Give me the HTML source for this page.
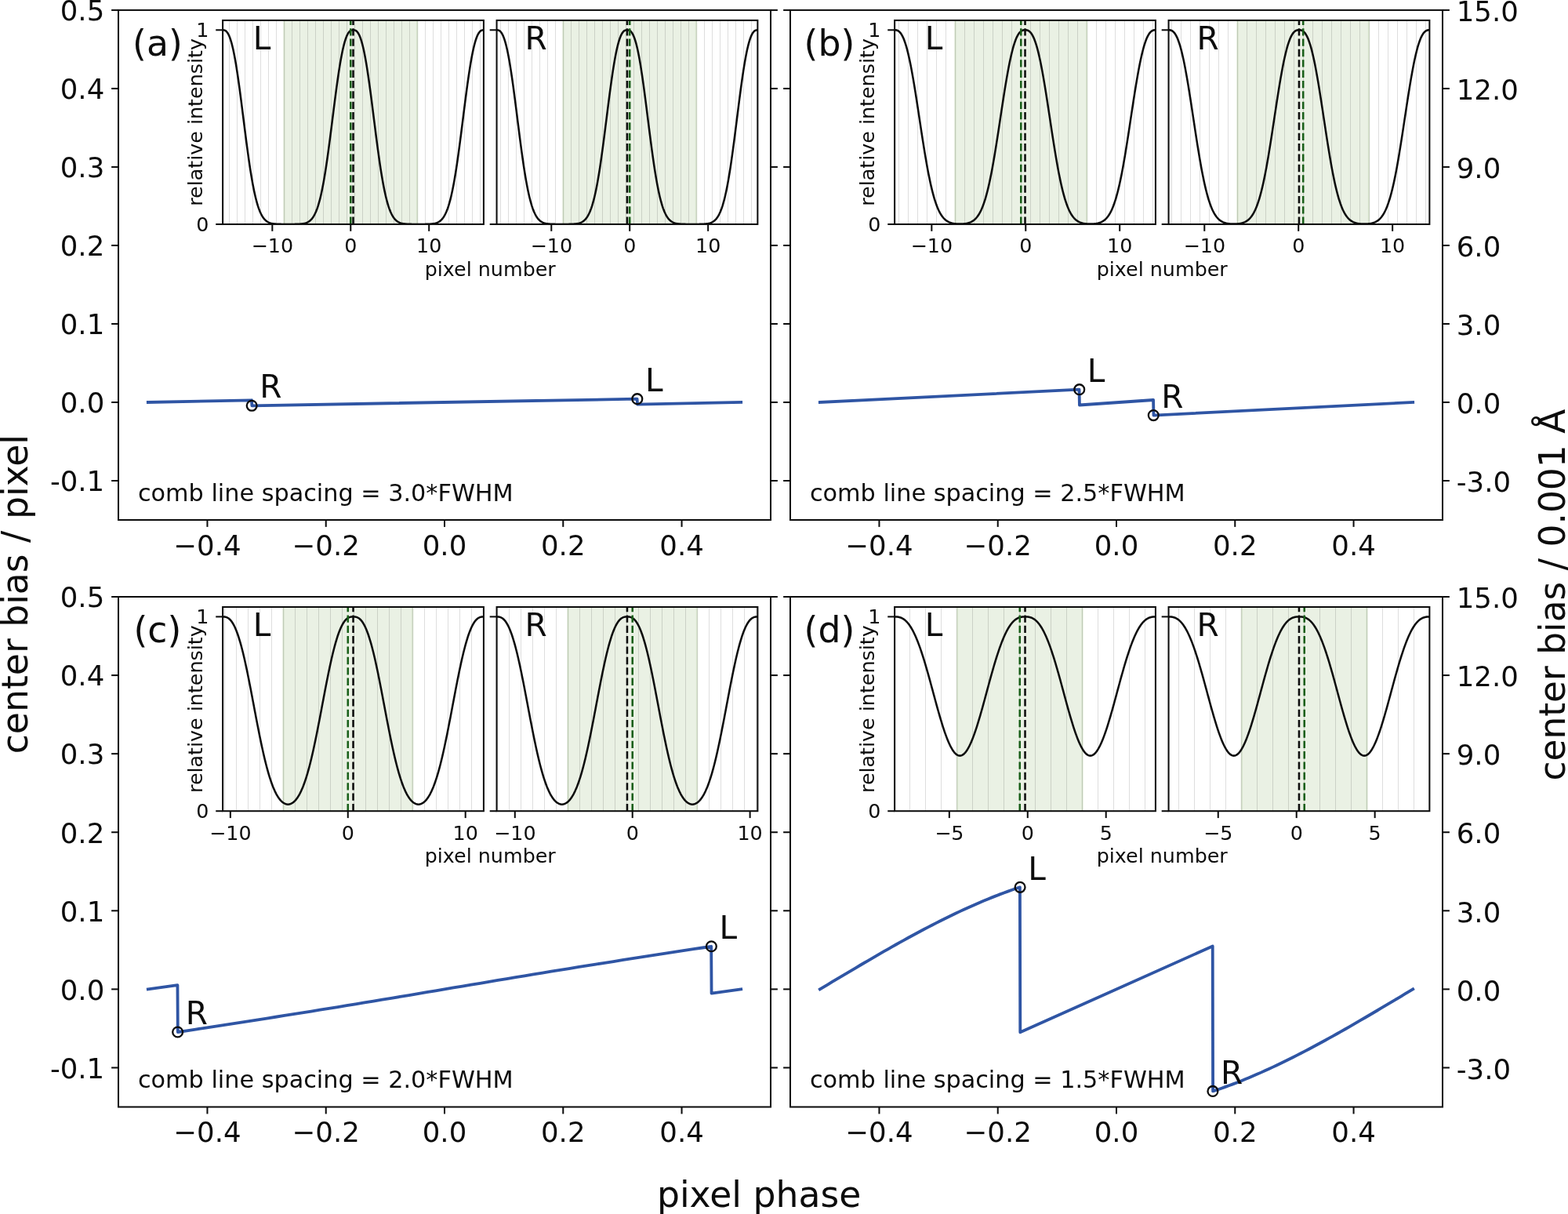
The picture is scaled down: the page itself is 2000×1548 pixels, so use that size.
<!DOCTYPE html>
<html lang="en">
<head>
<meta charset="utf-8">
<title>Center bias versus pixel phase</title>
<style>
html,body{margin:0;padding:0;background:#fff;}
body{width:2000px;height:1548px;overflow:hidden;}
svg{display:block;}
text{white-space:pre;}
</style>
</head>
<body>
<svg xmlns="http://www.w3.org/2000/svg" width="2000" height="1548" viewBox="0 0 2000 1548" font-family='"DejaVu Sans", "Liberation Sans", sans-serif' fill="#0c0c0c">
<rect x="0" y="0" width="2000" height="1548" fill="#fff"/>
<g id="panel-a">
<path d="M188.82 512.98L320.99 510.28L321.37 517.28L812.63 508.68L813.01 515.68L945.18 512.98" stroke="#2f55a4" stroke-width="3.81" fill="none" stroke-linejoin="round" stroke-linecap="square"/>
<circle cx="321.18" cy="517.28" r="6.42" fill="none" stroke="#0c0c0c" stroke-width="2.3"/>
<text x="331.28" y="507.48" font-size="40.59" text-anchor="start">R</text>
<circle cx="812.82" cy="508.68" r="6.42" fill="none" stroke="#0c0c0c" stroke-width="2.3"/>
<text x="822.92" y="498.88" font-size="40.59" text-anchor="start">L</text>
<rect x="151" y="12.9" width="832" height="650.1" fill="none" stroke="#0c0c0c" stroke-width="2.03"/>
<line x1="264.45" y1="663" x2="264.45" y2="671.88" stroke="#0c0c0c" stroke-width="2.03"/>
<text x="264.45" y="707.74" font-size="35.52" text-anchor="middle">−0.4</text>
<line x1="415.73" y1="663" x2="415.73" y2="671.88" stroke="#0c0c0c" stroke-width="2.03"/>
<text x="415.73" y="707.74" font-size="35.52" text-anchor="middle">−0.2</text>
<line x1="567" y1="663" x2="567" y2="671.88" stroke="#0c0c0c" stroke-width="2.03"/>
<text x="567" y="707.74" font-size="35.52" text-anchor="middle">0.0</text>
<line x1="718.27" y1="663" x2="718.27" y2="671.88" stroke="#0c0c0c" stroke-width="2.03"/>
<text x="718.27" y="707.74" font-size="35.52" text-anchor="middle">0.2</text>
<line x1="869.55" y1="663" x2="869.55" y2="671.88" stroke="#0c0c0c" stroke-width="2.03"/>
<text x="869.55" y="707.74" font-size="35.52" text-anchor="middle">0.4</text>
<line x1="142.12" y1="12.9" x2="151" y2="12.9" stroke="#0c0c0c" stroke-width="2.03"/>
<line x1="983" y1="12.9" x2="991.88" y2="12.9" stroke="#0c0c0c" stroke-width="2.03"/>
<text x="133.24" y="26.19" font-size="35.52" text-anchor="end">0.5</text>
<line x1="142.12" y1="112.92" x2="151" y2="112.92" stroke="#0c0c0c" stroke-width="2.03"/>
<line x1="983" y1="112.92" x2="991.88" y2="112.92" stroke="#0c0c0c" stroke-width="2.03"/>
<text x="133.24" y="126.21" font-size="35.52" text-anchor="end">0.4</text>
<line x1="142.12" y1="212.93" x2="151" y2="212.93" stroke="#0c0c0c" stroke-width="2.03"/>
<line x1="983" y1="212.93" x2="991.88" y2="212.93" stroke="#0c0c0c" stroke-width="2.03"/>
<text x="133.24" y="226.22" font-size="35.52" text-anchor="end">0.3</text>
<line x1="142.12" y1="312.95" x2="151" y2="312.95" stroke="#0c0c0c" stroke-width="2.03"/>
<line x1="983" y1="312.95" x2="991.88" y2="312.95" stroke="#0c0c0c" stroke-width="2.03"/>
<text x="133.24" y="326.24" font-size="35.52" text-anchor="end">0.2</text>
<line x1="142.12" y1="412.96" x2="151" y2="412.96" stroke="#0c0c0c" stroke-width="2.03"/>
<line x1="983" y1="412.96" x2="991.88" y2="412.96" stroke="#0c0c0c" stroke-width="2.03"/>
<text x="133.24" y="426.25" font-size="35.52" text-anchor="end">0.1</text>
<line x1="142.12" y1="512.98" x2="151" y2="512.98" stroke="#0c0c0c" stroke-width="2.03"/>
<line x1="983" y1="512.98" x2="991.88" y2="512.98" stroke="#0c0c0c" stroke-width="2.03"/>
<text x="133.24" y="526.27" font-size="35.52" text-anchor="end">0.0</text>
<line x1="142.12" y1="612.99" x2="151" y2="612.99" stroke="#0c0c0c" stroke-width="2.03"/>
<line x1="983" y1="612.99" x2="991.88" y2="612.99" stroke="#0c0c0c" stroke-width="2.03"/>
<text x="133.24" y="626.28" font-size="35.52" text-anchor="end">-0.1</text>
<text x="200.92" y="71.01" font-size="45.67" text-anchor="middle">(a)</text>
<text x="175.96" y="638.85" font-size="30.27" text-anchor="start">comb line spacing = 3.0*FWHM</text>
<clipPath id="c1"><rect x="284.12" y="25.9" width="332.8" height="260.04"/></clipPath>
<g clip-path="url(#c1)">
<rect x="362.32" y="20.9" width="169.9" height="270.04" fill="#468214" fill-opacity="0.115" stroke="#468214" stroke-opacity="0.115" stroke-width="2.54"/>
<path d="M292.5 25.9V285.94M302.5 25.9V285.94M312.5 25.9V285.94M322.5 25.9V285.94M332.5 25.9V285.94M342.5 25.9V285.94M352.5 25.9V285.94M362.5 25.9V285.94M372.5 25.9V285.94M382.5 25.9V285.94M392.5 25.9V285.94M402.5 25.9V285.94M412.5 25.9V285.94M422.5 25.9V285.94M432.5 25.9V285.94M442.5 25.9V285.94M452.5 25.9V285.94M462.5 25.9V285.94M472.5 25.9V285.94M482.5 25.9V285.94M492.5 25.9V285.94M502.5 25.9V285.94M512.5 25.9V285.94M522.5 25.9V285.94M532.5 25.9V285.94M542.5 25.9V285.94M552.5 25.9V285.94M562.5 25.9V285.94M572.5 25.9V285.94M582.5 25.9V285.94M592.5 25.9V285.94M602.5 25.9V285.94M612.5 25.9V285.94" stroke="#000" stroke-opacity="0.13" stroke-width="1" fill="none"/>
<path d="M284.12 38.28L284.95 38.31L285.78 38.42L286.62 38.65L287.45 39.05L288.28 39.64L289.11 40.44L289.94 41.47L290.78 42.75L291.61 44.3L292.44 46.13L293.27 48.24L294.1 50.65L294.94 53.36L295.77 56.38L296.6 59.71L297.43 63.34L298.26 67.27L299.1 71.5L299.93 76.02L300.76 80.81L301.59 85.87L302.42 91.18L303.26 96.71L304.09 102.46L304.92 108.4L305.75 114.51L306.58 120.76L307.42 127.14L308.25 133.61L309.08 140.15L309.91 146.73L310.74 153.33L311.58 159.92L312.41 166.48L313.24 172.98L314.07 179.39L314.9 185.7L315.74 191.88L316.57 197.92L317.4 203.78L318.23 209.47L319.06 214.96L319.9 220.24L320.73 225.3L321.56 230.12L322.39 234.72L323.22 239.07L324.06 243.18L324.89 247.05L325.72 250.68L326.55 254.07L327.38 257.22L328.22 260.14L329.05 262.83L329.88 265.32L330.71 267.59L331.54 269.67L332.38 271.56L333.21 273.27L334.04 274.82L334.87 276.21L335.7 277.46L336.54 278.57L337.37 279.56L338.2 280.43L339.03 281.2L339.86 281.88L340.7 282.48L341.53 283L342.36 283.45L343.19 283.83L344.02 284.17L344.86 284.46L345.69 284.7L346.52 284.91L347.35 285.09L348.18 285.24L349.02 285.36L349.85 285.47L350.68 285.56L351.51 285.63L352.34 285.69L353.18 285.74L354.01 285.78L354.84 285.81L355.67 285.84L356.5 285.86L357.34 285.88L358.17 285.89L359 285.9L359.83 285.91L360.66 285.92L361.5 285.92L362.33 285.93L363.16 285.93L363.99 285.93L364.82 285.93L365.66 285.94L366.49 285.94L367.32 285.94L368.15 285.94L368.98 285.94L369.82 285.93L370.65 285.93L371.48 285.93L372.31 285.93L373.14 285.92L373.98 285.92L374.81 285.91L375.64 285.9L376.47 285.89L377.3 285.88L378.14 285.86L378.97 285.84L379.8 285.81L380.63 285.78L381.46 285.74L382.3 285.69L383.13 285.63L383.96 285.56L384.79 285.47L385.62 285.36L386.46 285.24L387.29 285.09L388.12 284.91L388.95 284.7L389.78 284.46L390.62 284.17L391.45 283.83L392.28 283.45L393.11 283L393.94 282.48L394.78 281.88L395.61 281.2L396.44 280.43L397.27 279.56L398.1 278.57L398.94 277.46L399.77 276.21L400.6 274.82L401.43 273.27L402.26 271.56L403.1 269.67L403.93 267.59L404.76 265.32L405.59 262.83L406.42 260.14L407.26 257.22L408.09 254.07L408.92 250.68L409.75 247.05L410.58 243.18L411.42 239.07L412.25 234.72L413.08 230.12L413.91 225.3L414.74 220.24L415.58 214.96L416.41 209.47L417.24 203.78L418.07 197.92L418.9 191.88L419.74 185.7L420.57 179.39L421.4 172.98L422.23 166.48L423.06 159.92L423.9 153.33L424.73 146.73L425.56 140.15L426.39 133.61L427.22 127.14L428.06 120.76L428.89 114.51L429.72 108.4L430.55 102.46L431.38 96.71L432.22 91.18L433.05 85.87L433.88 80.81L434.71 76.02L435.54 71.5L436.38 67.27L437.21 63.34L438.04 59.71L438.87 56.38L439.7 53.36L440.54 50.65L441.37 48.24L442.2 46.13L443.03 44.3L443.86 42.75L444.7 41.47L445.53 40.44L446.36 39.64L447.19 39.05L448.02 38.65L448.86 38.42L449.69 38.31L450.52 38.28L451.35 38.31L452.18 38.42L453.02 38.65L453.85 39.05L454.68 39.64L455.51 40.44L456.34 41.47L457.18 42.75L458.01 44.3L458.84 46.13L459.67 48.24L460.5 50.65L461.34 53.36L462.17 56.38L463 59.71L463.83 63.34L464.66 67.27L465.5 71.5L466.33 76.02L467.16 80.81L467.99 85.87L468.82 91.18L469.66 96.71L470.49 102.46L471.32 108.4L472.15 114.51L472.98 120.76L473.82 127.14L474.65 133.61L475.48 140.15L476.31 146.73L477.14 153.33L477.98 159.92L478.81 166.48L479.64 172.98L480.47 179.39L481.3 185.7L482.14 191.88L482.97 197.92L483.8 203.78L484.63 209.47L485.46 214.96L486.3 220.24L487.13 225.3L487.96 230.12L488.79 234.72L489.62 239.07L490.46 243.18L491.29 247.05L492.12 250.68L492.95 254.07L493.78 257.22L494.62 260.14L495.45 262.83L496.28 265.32L497.11 267.59L497.94 269.67L498.78 271.56L499.61 273.27L500.44 274.82L501.27 276.21L502.1 277.46L502.94 278.57L503.77 279.56L504.6 280.43L505.43 281.2L506.26 281.88L507.1 282.48L507.93 283L508.76 283.45L509.59 283.83L510.42 284.17L511.26 284.46L512.09 284.7L512.92 284.91L513.75 285.09L514.58 285.24L515.42 285.36L516.25 285.47L517.08 285.56L517.91 285.63L518.74 285.69L519.58 285.74L520.41 285.78L521.24 285.81L522.07 285.84L522.9 285.86L523.74 285.88L524.57 285.89L525.4 285.9L526.23 285.91L527.06 285.92L527.9 285.92L528.73 285.93L529.56 285.93L530.39 285.93L531.22 285.93L532.06 285.94L532.89 285.94L533.72 285.94L534.55 285.94L535.38 285.94L536.22 285.93L537.05 285.93L537.88 285.93L538.71 285.93L539.54 285.92L540.38 285.92L541.21 285.91L542.04 285.9L542.87 285.89L543.7 285.88L544.54 285.86L545.37 285.84L546.2 285.81L547.03 285.78L547.86 285.74L548.7 285.69L549.53 285.63L550.36 285.56L551.19 285.47L552.02 285.36L552.86 285.24L553.69 285.09L554.52 284.91L555.35 284.7L556.18 284.46L557.02 284.17L557.85 283.83L558.68 283.45L559.51 283L560.34 282.48L561.18 281.88L562.01 281.2L562.84 280.43L563.67 279.56L564.5 278.57L565.34 277.46L566.17 276.21L567 274.82L567.83 273.27L568.66 271.56L569.5 269.67L570.33 267.59L571.16 265.32L571.99 262.83L572.82 260.14L573.66 257.22L574.49 254.07L575.32 250.68L576.15 247.05L576.98 243.18L577.82 239.07L578.65 234.72L579.48 230.12L580.31 225.3L581.14 220.24L581.98 214.96L582.81 209.47L583.64 203.78L584.47 197.92L585.3 191.88L586.14 185.7L586.97 179.39L587.8 172.98L588.63 166.48L589.46 159.92L590.3 153.33L591.13 146.73L591.96 140.15L592.79 133.61L593.62 127.14L594.46 120.76L595.29 114.51L596.12 108.4L596.95 102.46L597.78 96.71L598.62 91.18L599.45 85.87L600.28 80.81L601.11 76.02L601.94 71.5L602.78 67.27L603.61 63.34L604.44 59.71L605.27 56.38L606.1 53.36L606.94 50.65L607.77 48.24L608.6 46.13L609.43 44.3L610.26 42.75L611.1 41.47L611.93 40.44L612.76 39.64L613.59 39.05L614.42 38.65L615.26 38.42L616.09 38.31L616.92 38.28" stroke="#0c0c0c" stroke-width="2.54" fill="none" stroke-linejoin="round" stroke-linecap="square"/>
<path d="M450.52 285.94V25.9" stroke="#0c0c0c" stroke-width="2.54" stroke-dasharray="9.33 4.03" stroke-dashoffset="0" fill="none"/>
<path d="M447.27 285.94V25.9" stroke="#195f19" stroke-width="2.54" stroke-dasharray="9.33 4.03" stroke-dashoffset="0" fill="none"/>
</g>
<rect x="284.12" y="25.9" width="332.8" height="260.04" fill="none" stroke="#0c0c0c" stroke-width="2.03"/>
<line x1="347.33" y1="285.94" x2="347.33" y2="294.82" stroke="#0c0c0c" stroke-width="2.03"/>
<text x="347.33" y="322.28" font-size="25.37" text-anchor="middle">−10</text>
<line x1="447.27" y1="285.94" x2="447.27" y2="294.82" stroke="#0c0c0c" stroke-width="2.03"/>
<text x="447.27" y="322.28" font-size="25.37" text-anchor="middle">0</text>
<line x1="547.21" y1="285.94" x2="547.21" y2="294.82" stroke="#0c0c0c" stroke-width="2.03"/>
<text x="547.21" y="322.28" font-size="25.37" text-anchor="middle">10</text>
<line x1="275.24" y1="285.94" x2="284.12" y2="285.94" stroke="#0c0c0c" stroke-width="2.03"/>
<text x="266.36" y="294.98" font-size="25.37" text-anchor="end">0</text>
<line x1="275.24" y1="38.28" x2="284.12" y2="38.28" stroke="#0c0c0c" stroke-width="2.03"/>
<text x="266.36" y="47.32" font-size="25.37" text-anchor="end">1</text>
<text x="334.04" y="63.1" font-size="40.59" text-anchor="middle">L</text>
<clipPath id="c2"><rect x="633.56" y="25.9" width="332.8" height="260.04"/></clipPath>
<g clip-path="url(#c2)">
<rect x="718.26" y="20.9" width="169.9" height="270.04" fill="#468214" fill-opacity="0.115" stroke="#468214" stroke-opacity="0.115" stroke-width="2.54"/>
<path d="M638.5 25.9V285.94M648.5 25.9V285.94M658.5 25.9V285.94M668.5 25.9V285.94M678.5 25.9V285.94M688.5 25.9V285.94M698.5 25.9V285.94M708.5 25.9V285.94M718.5 25.9V285.94M728.5 25.9V285.94M738.5 25.9V285.94M748.5 25.9V285.94M758.5 25.9V285.94M768.5 25.9V285.94M778.5 25.9V285.94M788.5 25.9V285.94M798.5 25.9V285.94M808.5 25.9V285.94M818.5 25.9V285.94M828.5 25.9V285.94M838.5 25.9V285.94M848.5 25.9V285.94M858.5 25.9V285.94M868.5 25.9V285.94M878.5 25.9V285.94M888.5 25.9V285.94M898.5 25.9V285.94M908.5 25.9V285.94M918.5 25.9V285.94M928.5 25.9V285.94M938.5 25.9V285.94M948.5 25.9V285.94M958.5 25.9V285.94" stroke="#000" stroke-opacity="0.13" stroke-width="1" fill="none"/>
<path d="M633.56 38.28L634.39 38.31L635.22 38.42L636.06 38.65L636.89 39.05L637.72 39.64L638.55 40.44L639.38 41.47L640.22 42.75L641.05 44.3L641.88 46.13L642.71 48.24L643.54 50.65L644.38 53.36L645.21 56.38L646.04 59.71L646.87 63.34L647.7 67.27L648.54 71.5L649.37 76.02L650.2 80.81L651.03 85.87L651.86 91.18L652.7 96.71L653.53 102.46L654.36 108.4L655.19 114.51L656.02 120.76L656.86 127.14L657.69 133.61L658.52 140.15L659.35 146.73L660.18 153.33L661.02 159.92L661.85 166.48L662.68 172.98L663.51 179.39L664.34 185.7L665.18 191.88L666.01 197.92L666.84 203.78L667.67 209.47L668.5 214.96L669.34 220.24L670.17 225.3L671 230.12L671.83 234.72L672.66 239.07L673.5 243.18L674.33 247.05L675.16 250.68L675.99 254.07L676.82 257.22L677.66 260.14L678.49 262.83L679.32 265.32L680.15 267.59L680.98 269.67L681.82 271.56L682.65 273.27L683.48 274.82L684.31 276.21L685.14 277.46L685.98 278.57L686.81 279.56L687.64 280.43L688.47 281.2L689.3 281.88L690.14 282.48L690.97 283L691.8 283.45L692.63 283.83L693.46 284.17L694.3 284.46L695.13 284.7L695.96 284.91L696.79 285.09L697.62 285.24L698.46 285.36L699.29 285.47L700.12 285.56L700.95 285.63L701.78 285.69L702.62 285.74L703.45 285.78L704.28 285.81L705.11 285.84L705.94 285.86L706.78 285.88L707.61 285.89L708.44 285.9L709.27 285.91L710.1 285.92L710.94 285.92L711.77 285.93L712.6 285.93L713.43 285.93L714.26 285.93L715.1 285.94L715.93 285.94L716.76 285.94L717.59 285.94L718.42 285.94L719.26 285.93L720.09 285.93L720.92 285.93L721.75 285.93L722.58 285.92L723.42 285.92L724.25 285.91L725.08 285.9L725.91 285.89L726.74 285.88L727.58 285.86L728.41 285.84L729.24 285.81L730.07 285.78L730.9 285.74L731.74 285.69L732.57 285.63L733.4 285.56L734.23 285.47L735.06 285.36L735.9 285.24L736.73 285.09L737.56 284.91L738.39 284.7L739.22 284.46L740.06 284.17L740.89 283.83L741.72 283.45L742.55 283L743.38 282.48L744.22 281.88L745.05 281.2L745.88 280.43L746.71 279.56L747.54 278.57L748.38 277.46L749.21 276.21L750.04 274.82L750.87 273.27L751.7 271.56L752.54 269.67L753.37 267.59L754.2 265.32L755.03 262.83L755.86 260.14L756.7 257.22L757.53 254.07L758.36 250.68L759.19 247.05L760.02 243.18L760.86 239.07L761.69 234.72L762.52 230.12L763.35 225.3L764.18 220.24L765.02 214.96L765.85 209.47L766.68 203.78L767.51 197.92L768.34 191.88L769.18 185.7L770.01 179.39L770.84 172.98L771.67 166.48L772.5 159.92L773.34 153.33L774.17 146.73L775 140.15L775.83 133.61L776.66 127.14L777.5 120.76L778.33 114.51L779.16 108.4L779.99 102.46L780.82 96.71L781.66 91.18L782.49 85.87L783.32 80.81L784.15 76.02L784.98 71.5L785.82 67.27L786.65 63.34L787.48 59.71L788.31 56.38L789.14 53.36L789.98 50.65L790.81 48.24L791.64 46.13L792.47 44.3L793.3 42.75L794.14 41.47L794.97 40.44L795.8 39.64L796.63 39.05L797.46 38.65L798.3 38.42L799.13 38.31L799.96 38.28L800.79 38.31L801.62 38.42L802.46 38.65L803.29 39.05L804.12 39.64L804.95 40.44L805.78 41.47L806.62 42.75L807.45 44.3L808.28 46.13L809.11 48.24L809.94 50.65L810.78 53.36L811.61 56.38L812.44 59.71L813.27 63.34L814.1 67.27L814.94 71.5L815.77 76.02L816.6 80.81L817.43 85.87L818.26 91.18L819.1 96.71L819.93 102.46L820.76 108.4L821.59 114.51L822.42 120.76L823.26 127.14L824.09 133.61L824.92 140.15L825.75 146.73L826.58 153.33L827.42 159.92L828.25 166.48L829.08 172.98L829.91 179.39L830.74 185.7L831.58 191.88L832.41 197.92L833.24 203.78L834.07 209.47L834.9 214.96L835.74 220.24L836.57 225.3L837.4 230.12L838.23 234.72L839.06 239.07L839.9 243.18L840.73 247.05L841.56 250.68L842.39 254.07L843.22 257.22L844.06 260.14L844.89 262.83L845.72 265.32L846.55 267.59L847.38 269.67L848.22 271.56L849.05 273.27L849.88 274.82L850.71 276.21L851.54 277.46L852.38 278.57L853.21 279.56L854.04 280.43L854.87 281.2L855.7 281.88L856.54 282.48L857.37 283L858.2 283.45L859.03 283.83L859.86 284.17L860.7 284.46L861.53 284.7L862.36 284.91L863.19 285.09L864.02 285.24L864.86 285.36L865.69 285.47L866.52 285.56L867.35 285.63L868.18 285.69L869.02 285.74L869.85 285.78L870.68 285.81L871.51 285.84L872.34 285.86L873.18 285.88L874.01 285.89L874.84 285.9L875.67 285.91L876.5 285.92L877.34 285.92L878.17 285.93L879 285.93L879.83 285.93L880.66 285.93L881.5 285.94L882.33 285.94L883.16 285.94L883.99 285.94L884.82 285.94L885.66 285.93L886.49 285.93L887.32 285.93L888.15 285.93L888.98 285.92L889.82 285.92L890.65 285.91L891.48 285.9L892.31 285.89L893.14 285.88L893.98 285.86L894.81 285.84L895.64 285.81L896.47 285.78L897.3 285.74L898.14 285.69L898.97 285.63L899.8 285.56L900.63 285.47L901.46 285.36L902.3 285.24L903.13 285.09L903.96 284.91L904.79 284.7L905.62 284.46L906.46 284.17L907.29 283.83L908.12 283.45L908.95 283L909.78 282.48L910.62 281.88L911.45 281.2L912.28 280.43L913.11 279.56L913.94 278.57L914.78 277.46L915.61 276.21L916.44 274.82L917.27 273.27L918.1 271.56L918.94 269.67L919.77 267.59L920.6 265.32L921.43 262.83L922.26 260.14L923.1 257.22L923.93 254.07L924.76 250.68L925.59 247.05L926.42 243.18L927.26 239.07L928.09 234.72L928.92 230.12L929.75 225.3L930.58 220.24L931.42 214.96L932.25 209.47L933.08 203.78L933.91 197.92L934.74 191.88L935.58 185.7L936.41 179.39L937.24 172.98L938.07 166.48L938.9 159.92L939.74 153.33L940.57 146.73L941.4 140.15L942.23 133.61L943.06 127.14L943.9 120.76L944.73 114.51L945.56 108.4L946.39 102.46L947.22 96.71L948.06 91.18L948.89 85.87L949.72 80.81L950.55 76.02L951.38 71.5L952.22 67.27L953.05 63.34L953.88 59.71L954.71 56.38L955.54 53.36L956.38 50.65L957.21 48.24L958.04 46.13L958.87 44.3L959.7 42.75L960.54 41.47L961.37 40.44L962.2 39.64L963.03 39.05L963.86 38.65L964.7 38.42L965.53 38.31L966.36 38.28" stroke="#0c0c0c" stroke-width="2.54" fill="none" stroke-linejoin="round" stroke-linecap="square"/>
<path d="M799.96 285.94V25.9" stroke="#0c0c0c" stroke-width="2.54" stroke-dasharray="9.33 4.03" stroke-dashoffset="0" fill="none"/>
<path d="M803.21 285.94V25.9" stroke="#195f19" stroke-width="2.54" stroke-dasharray="9.33 4.03" stroke-dashoffset="0" fill="none"/>
</g>
<rect x="633.56" y="25.9" width="332.8" height="260.04" fill="none" stroke="#0c0c0c" stroke-width="2.03"/>
<line x1="703.27" y1="285.94" x2="703.27" y2="294.82" stroke="#0c0c0c" stroke-width="2.03"/>
<text x="703.27" y="322.28" font-size="25.37" text-anchor="middle">−10</text>
<line x1="803.21" y1="285.94" x2="803.21" y2="294.82" stroke="#0c0c0c" stroke-width="2.03"/>
<text x="803.21" y="322.28" font-size="25.37" text-anchor="middle">0</text>
<line x1="903.15" y1="285.94" x2="903.15" y2="294.82" stroke="#0c0c0c" stroke-width="2.03"/>
<text x="903.15" y="322.28" font-size="25.37" text-anchor="middle">10</text>
<line x1="624.68" y1="285.94" x2="633.56" y2="285.94" stroke="#0c0c0c" stroke-width="2.03"/>
<line x1="624.68" y1="38.28" x2="633.56" y2="38.28" stroke="#0c0c0c" stroke-width="2.03"/>
<text x="683.48" y="63.1" font-size="40.59" text-anchor="middle">R</text>
<text x="625.24" y="351.54" font-size="25.37" text-anchor="middle">pixel number</text>
<text transform="translate(258.02 155.92) rotate(-90)" font-size="25.37" text-anchor="middle">relative intensity</text>
</g>
<g id="panel-b">
<path d="M1045.82 512.98L1376.54 496.67L1376.92 516.48L1471.08 509.98L1471.46 529.58L1802.18 512.98" stroke="#2f55a4" stroke-width="3.81" fill="none" stroke-linejoin="round" stroke-linecap="square"/>
<circle cx="1376.73" cy="496.67" r="6.42" fill="none" stroke="#0c0c0c" stroke-width="2.3"/>
<text x="1386.83" y="486.87" font-size="40.59" text-anchor="start">L</text>
<circle cx="1471.27" cy="529.58" r="6.42" fill="none" stroke="#0c0c0c" stroke-width="2.3"/>
<text x="1481.37" y="519.78" font-size="40.59" text-anchor="start">R</text>
<rect x="1008" y="12.9" width="832" height="650.1" fill="none" stroke="#0c0c0c" stroke-width="2.03"/>
<line x1="1121.45" y1="663" x2="1121.45" y2="671.88" stroke="#0c0c0c" stroke-width="2.03"/>
<text x="1121.45" y="707.74" font-size="35.52" text-anchor="middle">−0.4</text>
<line x1="1272.73" y1="663" x2="1272.73" y2="671.88" stroke="#0c0c0c" stroke-width="2.03"/>
<text x="1272.73" y="707.74" font-size="35.52" text-anchor="middle">−0.2</text>
<line x1="1424" y1="663" x2="1424" y2="671.88" stroke="#0c0c0c" stroke-width="2.03"/>
<text x="1424" y="707.74" font-size="35.52" text-anchor="middle">0.0</text>
<line x1="1575.27" y1="663" x2="1575.27" y2="671.88" stroke="#0c0c0c" stroke-width="2.03"/>
<text x="1575.27" y="707.74" font-size="35.52" text-anchor="middle">0.2</text>
<line x1="1726.55" y1="663" x2="1726.55" y2="671.88" stroke="#0c0c0c" stroke-width="2.03"/>
<text x="1726.55" y="707.74" font-size="35.52" text-anchor="middle">0.4</text>
<line x1="999.12" y1="12.9" x2="1008" y2="12.9" stroke="#0c0c0c" stroke-width="2.03"/>
<line x1="1840" y1="12.9" x2="1848.88" y2="12.9" stroke="#0c0c0c" stroke-width="2.03"/>
<text x="1857.76" y="27.09" font-size="35.52" text-anchor="start">15.0</text>
<line x1="999.12" y1="112.92" x2="1008" y2="112.92" stroke="#0c0c0c" stroke-width="2.03"/>
<line x1="1840" y1="112.92" x2="1848.88" y2="112.92" stroke="#0c0c0c" stroke-width="2.03"/>
<text x="1857.76" y="127.11" font-size="35.52" text-anchor="start">12.0</text>
<line x1="999.12" y1="212.93" x2="1008" y2="212.93" stroke="#0c0c0c" stroke-width="2.03"/>
<line x1="1840" y1="212.93" x2="1848.88" y2="212.93" stroke="#0c0c0c" stroke-width="2.03"/>
<text x="1857.76" y="227.12" font-size="35.52" text-anchor="start">9.0</text>
<line x1="999.12" y1="312.95" x2="1008" y2="312.95" stroke="#0c0c0c" stroke-width="2.03"/>
<line x1="1840" y1="312.95" x2="1848.88" y2="312.95" stroke="#0c0c0c" stroke-width="2.03"/>
<text x="1857.76" y="327.14" font-size="35.52" text-anchor="start">6.0</text>
<line x1="999.12" y1="412.96" x2="1008" y2="412.96" stroke="#0c0c0c" stroke-width="2.03"/>
<line x1="1840" y1="412.96" x2="1848.88" y2="412.96" stroke="#0c0c0c" stroke-width="2.03"/>
<text x="1857.76" y="427.15" font-size="35.52" text-anchor="start">3.0</text>
<line x1="999.12" y1="512.98" x2="1008" y2="512.98" stroke="#0c0c0c" stroke-width="2.03"/>
<line x1="1840" y1="512.98" x2="1848.88" y2="512.98" stroke="#0c0c0c" stroke-width="2.03"/>
<text x="1857.76" y="527.17" font-size="35.52" text-anchor="start">0.0</text>
<line x1="999.12" y1="612.99" x2="1008" y2="612.99" stroke="#0c0c0c" stroke-width="2.03"/>
<line x1="1840" y1="612.99" x2="1848.88" y2="612.99" stroke="#0c0c0c" stroke-width="2.03"/>
<text x="1857.76" y="627.18" font-size="35.52" text-anchor="start">-3.0</text>
<text x="1057.92" y="71.01" font-size="45.67" text-anchor="middle">(b)</text>
<text x="1032.96" y="638.85" font-size="30.27" text-anchor="start">comb line spacing = 2.5*FWHM</text>
<clipPath id="c3"><rect x="1141.12" y="25.9" width="332.8" height="260.04"/></clipPath>
<g clip-path="url(#c3)">
<rect x="1218.32" y="20.9" width="167.9" height="270.04" fill="#468214" fill-opacity="0.115" stroke="#468214" stroke-opacity="0.115" stroke-width="2.54"/>
<path d="M1146.5 25.9V285.94M1158.5 25.9V285.94M1170.5 25.9V285.94M1182.5 25.9V285.94M1194.5 25.9V285.94M1206.5 25.9V285.94M1218.5 25.9V285.94M1230.5 25.9V285.94M1242.5 25.9V285.94M1254.5 25.9V285.94M1266.5 25.9V285.94M1278.5 25.9V285.94M1290.5 25.9V285.94M1302.5 25.9V285.94M1314.5 25.9V285.94M1326.5 25.9V285.94M1338.5 25.9V285.94M1350.5 25.9V285.94M1362.5 25.9V285.94M1374.5 25.9V285.94M1386.5 25.9V285.94M1398.5 25.9V285.94M1410.5 25.9V285.94M1422.5 25.9V285.94M1434.5 25.9V285.94M1446.5 25.9V285.94M1458.5 25.9V285.94M1470.5 25.9V285.94" stroke="#000" stroke-opacity="0.13" stroke-width="1" fill="none"/>
<path d="M1141.12 38.28L1141.95 38.3L1142.78 38.37L1143.62 38.52L1144.45 38.77L1145.28 39.14L1146.11 39.64L1146.94 40.29L1147.78 41.1L1148.61 42.08L1149.44 43.24L1150.27 44.59L1151.1 46.13L1151.94 47.87L1152.77 49.81L1153.6 51.97L1154.43 54.33L1155.26 56.91L1156.1 59.71L1156.93 62.71L1157.76 65.93L1158.59 69.35L1159.42 72.98L1160.26 76.8L1161.09 80.81L1161.92 85.01L1162.75 89.38L1163.58 93.92L1164.42 98.61L1165.25 103.44L1166.08 108.4L1166.91 113.48L1167.74 118.66L1168.58 123.94L1169.41 129.28L1170.24 134.69L1171.07 140.15L1171.9 145.63L1172.74 151.13L1173.57 156.63L1174.4 162.11L1175.23 167.57L1176.06 172.98L1176.9 178.33L1177.73 183.61L1178.56 188.81L1179.39 193.91L1180.22 198.91L1181.06 203.78L1181.89 208.54L1182.72 213.15L1183.55 217.62L1184.38 221.95L1185.22 226.12L1186.05 230.12L1186.88 233.97L1187.71 237.65L1188.54 241.16L1189.38 244.5L1190.21 247.67L1191.04 250.68L1191.87 253.52L1192.7 256.19L1193.54 258.7L1194.37 261.06L1195.2 263.26L1196.03 265.32L1196.86 267.23L1197.7 269L1198.53 270.64L1199.36 272.15L1200.19 273.54L1201.02 274.82L1201.86 275.99L1202.69 277.05L1203.52 278.03L1204.35 278.91L1205.18 279.71L1206.02 280.43L1206.85 281.08L1207.68 281.66L1208.51 282.19L1209.34 282.65L1210.18 283.07L1211.01 283.44L1211.84 283.76L1212.67 284.05L1213.5 284.3L1214.34 284.53L1215.17 284.72L1216 284.88L1216.83 285.03L1217.66 285.15L1218.5 285.25L1219.33 285.34L1220.16 285.41L1220.99 285.47L1221.82 285.51L1222.66 285.54L1223.49 285.56L1224.32 285.56L1225.15 285.56L1225.98 285.54L1226.82 285.51L1227.65 285.47L1228.48 285.41L1229.31 285.34L1230.14 285.25L1230.98 285.15L1231.81 285.03L1232.64 284.88L1233.47 284.72L1234.3 284.53L1235.14 284.3L1235.97 284.05L1236.8 283.76L1237.63 283.44L1238.46 283.07L1239.3 282.65L1240.13 282.19L1240.96 281.66L1241.79 281.08L1242.62 280.43L1243.46 279.71L1244.29 278.91L1245.12 278.03L1245.95 277.05L1246.78 275.99L1247.62 274.82L1248.45 273.54L1249.28 272.15L1250.11 270.64L1250.94 269L1251.78 267.23L1252.61 265.32L1253.44 263.26L1254.27 261.06L1255.1 258.7L1255.94 256.19L1256.77 253.52L1257.6 250.68L1258.43 247.67L1259.26 244.5L1260.1 241.16L1260.93 237.65L1261.76 233.97L1262.59 230.12L1263.42 226.12L1264.26 221.95L1265.09 217.62L1265.92 213.15L1266.75 208.54L1267.58 203.78L1268.42 198.91L1269.25 193.91L1270.08 188.81L1270.91 183.61L1271.74 178.33L1272.58 172.98L1273.41 167.57L1274.24 162.11L1275.07 156.63L1275.9 151.13L1276.74 145.63L1277.57 140.15L1278.4 134.69L1279.23 129.28L1280.06 123.94L1280.9 118.66L1281.73 113.48L1282.56 108.4L1283.39 103.44L1284.22 98.61L1285.06 93.92L1285.89 89.38L1286.72 85.01L1287.55 80.81L1288.38 76.8L1289.22 72.98L1290.05 69.35L1290.88 65.93L1291.71 62.71L1292.54 59.71L1293.38 56.91L1294.21 54.33L1295.04 51.97L1295.87 49.81L1296.7 47.87L1297.54 46.13L1298.37 44.59L1299.2 43.24L1300.03 42.08L1300.86 41.1L1301.7 40.29L1302.53 39.64L1303.36 39.14L1304.19 38.77L1305.02 38.52L1305.86 38.37L1306.69 38.3L1307.52 38.28L1308.35 38.3L1309.18 38.37L1310.02 38.52L1310.85 38.77L1311.68 39.14L1312.51 39.64L1313.34 40.29L1314.18 41.1L1315.01 42.08L1315.84 43.24L1316.67 44.59L1317.5 46.13L1318.34 47.87L1319.17 49.81L1320 51.97L1320.83 54.33L1321.66 56.91L1322.5 59.71L1323.33 62.71L1324.16 65.93L1324.99 69.35L1325.82 72.98L1326.66 76.8L1327.49 80.81L1328.32 85.01L1329.15 89.38L1329.98 93.92L1330.82 98.61L1331.65 103.44L1332.48 108.4L1333.31 113.48L1334.14 118.66L1334.98 123.94L1335.81 129.28L1336.64 134.69L1337.47 140.15L1338.3 145.63L1339.14 151.13L1339.97 156.63L1340.8 162.11L1341.63 167.57L1342.46 172.98L1343.3 178.33L1344.13 183.61L1344.96 188.81L1345.79 193.91L1346.62 198.91L1347.46 203.78L1348.29 208.54L1349.12 213.15L1349.95 217.62L1350.78 221.95L1351.62 226.12L1352.45 230.12L1353.28 233.97L1354.11 237.65L1354.94 241.16L1355.78 244.5L1356.61 247.67L1357.44 250.68L1358.27 253.52L1359.1 256.19L1359.94 258.7L1360.77 261.06L1361.6 263.26L1362.43 265.32L1363.26 267.23L1364.1 269L1364.93 270.64L1365.76 272.15L1366.59 273.54L1367.42 274.82L1368.26 275.99L1369.09 277.05L1369.92 278.03L1370.75 278.91L1371.58 279.71L1372.42 280.43L1373.25 281.08L1374.08 281.66L1374.91 282.19L1375.74 282.65L1376.58 283.07L1377.41 283.44L1378.24 283.76L1379.07 284.05L1379.9 284.3L1380.74 284.53L1381.57 284.72L1382.4 284.88L1383.23 285.03L1384.06 285.15L1384.9 285.25L1385.73 285.34L1386.56 285.41L1387.39 285.47L1388.22 285.51L1389.06 285.54L1389.89 285.56L1390.72 285.56L1391.55 285.56L1392.38 285.54L1393.22 285.51L1394.05 285.47L1394.88 285.41L1395.71 285.34L1396.54 285.25L1397.38 285.15L1398.21 285.03L1399.04 284.88L1399.87 284.72L1400.7 284.53L1401.54 284.3L1402.37 284.05L1403.2 283.76L1404.03 283.44L1404.86 283.07L1405.7 282.65L1406.53 282.19L1407.36 281.66L1408.19 281.08L1409.02 280.43L1409.86 279.71L1410.69 278.91L1411.52 278.03L1412.35 277.05L1413.18 275.99L1414.02 274.82L1414.85 273.54L1415.68 272.15L1416.51 270.64L1417.34 269L1418.18 267.23L1419.01 265.32L1419.84 263.26L1420.67 261.06L1421.5 258.7L1422.34 256.19L1423.17 253.52L1424 250.68L1424.83 247.67L1425.66 244.5L1426.5 241.16L1427.33 237.65L1428.16 233.97L1428.99 230.12L1429.82 226.12L1430.66 221.95L1431.49 217.62L1432.32 213.15L1433.15 208.54L1433.98 203.78L1434.82 198.91L1435.65 193.91L1436.48 188.81L1437.31 183.61L1438.14 178.33L1438.98 172.98L1439.81 167.57L1440.64 162.11L1441.47 156.63L1442.3 151.13L1443.14 145.63L1443.97 140.15L1444.8 134.69L1445.63 129.28L1446.46 123.94L1447.3 118.66L1448.13 113.48L1448.96 108.4L1449.79 103.44L1450.62 98.61L1451.46 93.92L1452.29 89.38L1453.12 85.01L1453.95 80.81L1454.78 76.8L1455.62 72.98L1456.45 69.35L1457.28 65.93L1458.11 62.71L1458.94 59.71L1459.78 56.91L1460.61 54.33L1461.44 51.97L1462.27 49.81L1463.1 47.87L1463.94 46.13L1464.77 44.59L1465.6 43.24L1466.43 42.08L1467.26 41.1L1468.1 40.29L1468.93 39.64L1469.76 39.14L1470.59 38.77L1471.42 38.52L1472.26 38.37L1473.09 38.3L1473.92 38.28" stroke="#0c0c0c" stroke-width="2.54" fill="none" stroke-linejoin="round" stroke-linecap="square"/>
<path d="M1307.52 285.94V25.9" stroke="#0c0c0c" stroke-width="2.54" stroke-dasharray="9.33 4.03" stroke-dashoffset="0" fill="none"/>
<path d="M1302.27 285.94V25.9" stroke="#195f19" stroke-width="2.54" stroke-dasharray="9.33 4.03" stroke-dashoffset="0" fill="none"/>
</g>
<rect x="1141.12" y="25.9" width="332.8" height="260.04" fill="none" stroke="#0c0c0c" stroke-width="2.03"/>
<line x1="1188.34" y1="285.94" x2="1188.34" y2="294.82" stroke="#0c0c0c" stroke-width="2.03"/>
<text x="1188.34" y="322.28" font-size="25.37" text-anchor="middle">−10</text>
<line x1="1308.27" y1="285.94" x2="1308.27" y2="294.82" stroke="#0c0c0c" stroke-width="2.03"/>
<text x="1308.27" y="322.28" font-size="25.37" text-anchor="middle">0</text>
<line x1="1428.2" y1="285.94" x2="1428.2" y2="294.82" stroke="#0c0c0c" stroke-width="2.03"/>
<text x="1428.2" y="322.28" font-size="25.37" text-anchor="middle">10</text>
<line x1="1132.24" y1="285.94" x2="1141.12" y2="285.94" stroke="#0c0c0c" stroke-width="2.03"/>
<text x="1123.36" y="294.98" font-size="25.37" text-anchor="end">0</text>
<line x1="1132.24" y1="38.28" x2="1141.12" y2="38.28" stroke="#0c0c0c" stroke-width="2.03"/>
<text x="1123.36" y="47.32" font-size="25.37" text-anchor="end">1</text>
<text x="1191.04" y="63.1" font-size="40.59" text-anchor="middle">L</text>
<clipPath id="c4"><rect x="1490.56" y="25.9" width="332.8" height="260.04"/></clipPath>
<g clip-path="url(#c4)">
<rect x="1578.26" y="20.9" width="167.9" height="270.04" fill="#468214" fill-opacity="0.115" stroke="#468214" stroke-opacity="0.115" stroke-width="2.54"/>
<path d="M1494.5 25.9V285.94M1506.5 25.9V285.94M1518.5 25.9V285.94M1530.5 25.9V285.94M1542.5 25.9V285.94M1554.5 25.9V285.94M1566.5 25.9V285.94M1578.5 25.9V285.94M1590.5 25.9V285.94M1602.5 25.9V285.94M1614.5 25.9V285.94M1626.5 25.9V285.94M1638.5 25.9V285.94M1650.5 25.9V285.94M1662.5 25.9V285.94M1674.5 25.9V285.94M1686.5 25.9V285.94M1698.5 25.9V285.94M1710.5 25.9V285.94M1722.5 25.9V285.94M1734.5 25.9V285.94M1746.5 25.9V285.94M1758.5 25.9V285.94M1770.5 25.9V285.94M1782.5 25.9V285.94M1794.5 25.9V285.94M1806.5 25.9V285.94M1818.5 25.9V285.94" stroke="#000" stroke-opacity="0.13" stroke-width="1" fill="none"/>
<path d="M1490.56 38.28L1491.39 38.3L1492.22 38.37L1493.06 38.52L1493.89 38.77L1494.72 39.14L1495.55 39.64L1496.38 40.29L1497.22 41.1L1498.05 42.08L1498.88 43.24L1499.71 44.59L1500.54 46.13L1501.38 47.87L1502.21 49.81L1503.04 51.97L1503.87 54.33L1504.7 56.91L1505.54 59.71L1506.37 62.71L1507.2 65.93L1508.03 69.35L1508.86 72.98L1509.7 76.8L1510.53 80.81L1511.36 85.01L1512.19 89.38L1513.02 93.92L1513.86 98.61L1514.69 103.44L1515.52 108.4L1516.35 113.48L1517.18 118.66L1518.02 123.94L1518.85 129.28L1519.68 134.69L1520.51 140.15L1521.34 145.63L1522.18 151.13L1523.01 156.63L1523.84 162.11L1524.67 167.57L1525.5 172.98L1526.34 178.33L1527.17 183.61L1528 188.81L1528.83 193.91L1529.66 198.91L1530.5 203.78L1531.33 208.54L1532.16 213.15L1532.99 217.62L1533.82 221.95L1534.66 226.12L1535.49 230.12L1536.32 233.97L1537.15 237.65L1537.98 241.16L1538.82 244.5L1539.65 247.67L1540.48 250.68L1541.31 253.52L1542.14 256.19L1542.98 258.7L1543.81 261.06L1544.64 263.26L1545.47 265.32L1546.3 267.23L1547.14 269L1547.97 270.64L1548.8 272.15L1549.63 273.54L1550.46 274.82L1551.3 275.99L1552.13 277.05L1552.96 278.03L1553.79 278.91L1554.62 279.71L1555.46 280.43L1556.29 281.08L1557.12 281.66L1557.95 282.19L1558.78 282.65L1559.62 283.07L1560.45 283.44L1561.28 283.76L1562.11 284.05L1562.94 284.3L1563.78 284.53L1564.61 284.72L1565.44 284.88L1566.27 285.03L1567.1 285.15L1567.94 285.25L1568.77 285.34L1569.6 285.41L1570.43 285.47L1571.26 285.51L1572.1 285.54L1572.93 285.56L1573.76 285.56L1574.59 285.56L1575.42 285.54L1576.26 285.51L1577.09 285.47L1577.92 285.41L1578.75 285.34L1579.58 285.25L1580.42 285.15L1581.25 285.03L1582.08 284.88L1582.91 284.72L1583.74 284.53L1584.58 284.3L1585.41 284.05L1586.24 283.76L1587.07 283.44L1587.9 283.07L1588.74 282.65L1589.57 282.19L1590.4 281.66L1591.23 281.08L1592.06 280.43L1592.9 279.71L1593.73 278.91L1594.56 278.03L1595.39 277.05L1596.22 275.99L1597.06 274.82L1597.89 273.54L1598.72 272.15L1599.55 270.64L1600.38 269L1601.22 267.23L1602.05 265.32L1602.88 263.26L1603.71 261.06L1604.54 258.7L1605.38 256.19L1606.21 253.52L1607.04 250.68L1607.87 247.67L1608.7 244.5L1609.54 241.16L1610.37 237.65L1611.2 233.97L1612.03 230.12L1612.86 226.12L1613.7 221.95L1614.53 217.62L1615.36 213.15L1616.19 208.54L1617.02 203.78L1617.86 198.91L1618.69 193.91L1619.52 188.81L1620.35 183.61L1621.18 178.33L1622.02 172.98L1622.85 167.57L1623.68 162.11L1624.51 156.63L1625.34 151.13L1626.18 145.63L1627.01 140.15L1627.84 134.69L1628.67 129.28L1629.5 123.94L1630.34 118.66L1631.17 113.48L1632 108.4L1632.83 103.44L1633.66 98.61L1634.5 93.92L1635.33 89.38L1636.16 85.01L1636.99 80.81L1637.82 76.8L1638.66 72.98L1639.49 69.35L1640.32 65.93L1641.15 62.71L1641.98 59.71L1642.82 56.91L1643.65 54.33L1644.48 51.97L1645.31 49.81L1646.14 47.87L1646.98 46.13L1647.81 44.59L1648.64 43.24L1649.47 42.08L1650.3 41.1L1651.14 40.29L1651.97 39.64L1652.8 39.14L1653.63 38.77L1654.46 38.52L1655.3 38.37L1656.13 38.3L1656.96 38.28L1657.79 38.3L1658.62 38.37L1659.46 38.52L1660.29 38.77L1661.12 39.14L1661.95 39.64L1662.78 40.29L1663.62 41.1L1664.45 42.08L1665.28 43.24L1666.11 44.59L1666.94 46.13L1667.78 47.87L1668.61 49.81L1669.44 51.97L1670.27 54.33L1671.1 56.91L1671.94 59.71L1672.77 62.71L1673.6 65.93L1674.43 69.35L1675.26 72.98L1676.1 76.8L1676.93 80.81L1677.76 85.01L1678.59 89.38L1679.42 93.92L1680.26 98.61L1681.09 103.44L1681.92 108.4L1682.75 113.48L1683.58 118.66L1684.42 123.94L1685.25 129.28L1686.08 134.69L1686.91 140.15L1687.74 145.63L1688.58 151.13L1689.41 156.63L1690.24 162.11L1691.07 167.57L1691.9 172.98L1692.74 178.33L1693.57 183.61L1694.4 188.81L1695.23 193.91L1696.06 198.91L1696.9 203.78L1697.73 208.54L1698.56 213.15L1699.39 217.62L1700.22 221.95L1701.06 226.12L1701.89 230.12L1702.72 233.97L1703.55 237.65L1704.38 241.16L1705.22 244.5L1706.05 247.67L1706.88 250.68L1707.71 253.52L1708.54 256.19L1709.38 258.7L1710.21 261.06L1711.04 263.26L1711.87 265.32L1712.7 267.23L1713.54 269L1714.37 270.64L1715.2 272.15L1716.03 273.54L1716.86 274.82L1717.7 275.99L1718.53 277.05L1719.36 278.03L1720.19 278.91L1721.02 279.71L1721.86 280.43L1722.69 281.08L1723.52 281.66L1724.35 282.19L1725.18 282.65L1726.02 283.07L1726.85 283.44L1727.68 283.76L1728.51 284.05L1729.34 284.3L1730.18 284.53L1731.01 284.72L1731.84 284.88L1732.67 285.03L1733.5 285.15L1734.34 285.25L1735.17 285.34L1736 285.41L1736.83 285.47L1737.66 285.51L1738.5 285.54L1739.33 285.56L1740.16 285.56L1740.99 285.56L1741.82 285.54L1742.66 285.51L1743.49 285.47L1744.32 285.41L1745.15 285.34L1745.98 285.25L1746.82 285.15L1747.65 285.03L1748.48 284.88L1749.31 284.72L1750.14 284.53L1750.98 284.3L1751.81 284.05L1752.64 283.76L1753.47 283.44L1754.3 283.07L1755.14 282.65L1755.97 282.19L1756.8 281.66L1757.63 281.08L1758.46 280.43L1759.3 279.71L1760.13 278.91L1760.96 278.03L1761.79 277.05L1762.62 275.99L1763.46 274.82L1764.29 273.54L1765.12 272.15L1765.95 270.64L1766.78 269L1767.62 267.23L1768.45 265.32L1769.28 263.26L1770.11 261.06L1770.94 258.7L1771.78 256.19L1772.61 253.52L1773.44 250.68L1774.27 247.67L1775.1 244.5L1775.94 241.16L1776.77 237.65L1777.6 233.97L1778.43 230.12L1779.26 226.12L1780.1 221.95L1780.93 217.62L1781.76 213.15L1782.59 208.54L1783.42 203.78L1784.26 198.91L1785.09 193.91L1785.92 188.81L1786.75 183.61L1787.58 178.33L1788.42 172.98L1789.25 167.57L1790.08 162.11L1790.91 156.63L1791.74 151.13L1792.58 145.63L1793.41 140.15L1794.24 134.69L1795.07 129.28L1795.9 123.94L1796.74 118.66L1797.57 113.48L1798.4 108.4L1799.23 103.44L1800.06 98.61L1800.9 93.92L1801.73 89.38L1802.56 85.01L1803.39 80.81L1804.22 76.8L1805.06 72.98L1805.89 69.35L1806.72 65.93L1807.55 62.71L1808.38 59.71L1809.22 56.91L1810.05 54.33L1810.88 51.97L1811.71 49.81L1812.54 47.87L1813.38 46.13L1814.21 44.59L1815.04 43.24L1815.87 42.08L1816.7 41.1L1817.54 40.29L1818.37 39.64L1819.2 39.14L1820.03 38.77L1820.86 38.52L1821.7 38.37L1822.53 38.3L1823.36 38.28" stroke="#0c0c0c" stroke-width="2.54" fill="none" stroke-linejoin="round" stroke-linecap="square"/>
<path d="M1656.96 285.94V25.9" stroke="#0c0c0c" stroke-width="2.54" stroke-dasharray="9.33 4.03" stroke-dashoffset="0" fill="none"/>
<path d="M1662.21 285.94V25.9" stroke="#195f19" stroke-width="2.54" stroke-dasharray="9.33 4.03" stroke-dashoffset="0" fill="none"/>
</g>
<rect x="1490.56" y="25.9" width="332.8" height="260.04" fill="none" stroke="#0c0c0c" stroke-width="2.03"/>
<line x1="1536.28" y1="285.94" x2="1536.28" y2="294.82" stroke="#0c0c0c" stroke-width="2.03"/>
<text x="1536.28" y="322.28" font-size="25.37" text-anchor="middle">−10</text>
<line x1="1656.21" y1="285.94" x2="1656.21" y2="294.82" stroke="#0c0c0c" stroke-width="2.03"/>
<text x="1656.21" y="322.28" font-size="25.37" text-anchor="middle">0</text>
<line x1="1776.14" y1="285.94" x2="1776.14" y2="294.82" stroke="#0c0c0c" stroke-width="2.03"/>
<text x="1776.14" y="322.28" font-size="25.37" text-anchor="middle">10</text>
<line x1="1481.68" y1="285.94" x2="1490.56" y2="285.94" stroke="#0c0c0c" stroke-width="2.03"/>
<line x1="1481.68" y1="38.28" x2="1490.56" y2="38.28" stroke="#0c0c0c" stroke-width="2.03"/>
<text x="1540.48" y="63.1" font-size="40.59" text-anchor="middle">R</text>
<text x="1482.24" y="351.54" font-size="25.37" text-anchor="middle">pixel number</text>
<text transform="translate(1115.02 155.92) rotate(-90)" font-size="25.37" text-anchor="middle">relative intensity</text>
</g>
<g id="panel-c">
<path d="M188.82 1261.38L226.45 1256.18L226.83 1316L238.16 1314.27L249.5 1312.53L260.84 1310.8L272.18 1309.06L283.52 1307.32L294.86 1305.57L306.2 1303.82L317.54 1302.07L328.88 1300.3L340.22 1298.53L351.56 1296.75L362.9 1294.96L374.23 1293.16L385.57 1291.36L396.91 1289.54L408.25 1287.72L419.59 1285.88L430.93 1284.04L442.27 1282.19L453.61 1280.32L464.95 1278.46L476.29 1276.58L487.63 1274.7L498.97 1272.81L510.3 1270.91L521.64 1269.01L532.98 1267.11L544.32 1265.2L555.66 1263.29L567 1261.38L578.34 1259.48L589.68 1257.57L601.02 1255.66L612.36 1253.76L623.7 1251.86L635.03 1249.96L646.37 1248.07L657.71 1246.19L669.05 1244.31L680.39 1242.44L691.73 1240.58L703.07 1238.73L714.41 1236.89L725.75 1235.05L737.09 1233.23L748.43 1231.41L759.77 1229.61L771.1 1227.81L782.44 1226.02L793.78 1224.24L805.12 1222.47L816.46 1220.7L827.8 1218.95L839.14 1217.19L850.48 1215.45L861.82 1213.71L873.16 1211.97L884.5 1210.24L895.84 1208.5L907.17 1206.77L907.55 1266.59L945.18 1261.38" stroke="#2f55a4" stroke-width="3.81" fill="none" stroke-linejoin="round" stroke-linecap="square"/>
<circle cx="226.64" cy="1316" r="6.42" fill="none" stroke="#0c0c0c" stroke-width="2.3"/>
<text x="236.74" y="1306.2" font-size="40.59" text-anchor="start">R</text>
<circle cx="907.36" cy="1206.77" r="6.42" fill="none" stroke="#0c0c0c" stroke-width="2.3"/>
<text x="917.46" y="1196.97" font-size="40.59" text-anchor="start">L</text>
<rect x="151" y="761" width="832" height="650.5" fill="none" stroke="#0c0c0c" stroke-width="2.03"/>
<line x1="264.45" y1="1411.5" x2="264.45" y2="1420.38" stroke="#0c0c0c" stroke-width="2.03"/>
<text x="264.45" y="1456.24" font-size="35.52" text-anchor="middle">−0.4</text>
<line x1="415.73" y1="1411.5" x2="415.73" y2="1420.38" stroke="#0c0c0c" stroke-width="2.03"/>
<text x="415.73" y="1456.24" font-size="35.52" text-anchor="middle">−0.2</text>
<line x1="567" y1="1411.5" x2="567" y2="1420.38" stroke="#0c0c0c" stroke-width="2.03"/>
<text x="567" y="1456.24" font-size="35.52" text-anchor="middle">0.0</text>
<line x1="718.27" y1="1411.5" x2="718.27" y2="1420.38" stroke="#0c0c0c" stroke-width="2.03"/>
<text x="718.27" y="1456.24" font-size="35.52" text-anchor="middle">0.2</text>
<line x1="869.55" y1="1411.5" x2="869.55" y2="1420.38" stroke="#0c0c0c" stroke-width="2.03"/>
<text x="869.55" y="1456.24" font-size="35.52" text-anchor="middle">0.4</text>
<line x1="142.12" y1="761" x2="151" y2="761" stroke="#0c0c0c" stroke-width="2.03"/>
<line x1="983" y1="761" x2="991.88" y2="761" stroke="#0c0c0c" stroke-width="2.03"/>
<text x="133.24" y="774.29" font-size="35.52" text-anchor="end">0.5</text>
<line x1="142.12" y1="861.08" x2="151" y2="861.08" stroke="#0c0c0c" stroke-width="2.03"/>
<line x1="983" y1="861.08" x2="991.88" y2="861.08" stroke="#0c0c0c" stroke-width="2.03"/>
<text x="133.24" y="874.37" font-size="35.52" text-anchor="end">0.4</text>
<line x1="142.12" y1="961.15" x2="151" y2="961.15" stroke="#0c0c0c" stroke-width="2.03"/>
<line x1="983" y1="961.15" x2="991.88" y2="961.15" stroke="#0c0c0c" stroke-width="2.03"/>
<text x="133.24" y="974.45" font-size="35.52" text-anchor="end">0.3</text>
<line x1="142.12" y1="1061.23" x2="151" y2="1061.23" stroke="#0c0c0c" stroke-width="2.03"/>
<line x1="983" y1="1061.23" x2="991.88" y2="1061.23" stroke="#0c0c0c" stroke-width="2.03"/>
<text x="133.24" y="1074.52" font-size="35.52" text-anchor="end">0.2</text>
<line x1="142.12" y1="1161.31" x2="151" y2="1161.31" stroke="#0c0c0c" stroke-width="2.03"/>
<line x1="983" y1="1161.31" x2="991.88" y2="1161.31" stroke="#0c0c0c" stroke-width="2.03"/>
<text x="133.24" y="1174.6" font-size="35.52" text-anchor="end">0.1</text>
<line x1="142.12" y1="1261.38" x2="151" y2="1261.38" stroke="#0c0c0c" stroke-width="2.03"/>
<line x1="983" y1="1261.38" x2="991.88" y2="1261.38" stroke="#0c0c0c" stroke-width="2.03"/>
<text x="133.24" y="1274.68" font-size="35.52" text-anchor="end">0.0</text>
<line x1="142.12" y1="1361.46" x2="151" y2="1361.46" stroke="#0c0c0c" stroke-width="2.03"/>
<line x1="983" y1="1361.46" x2="991.88" y2="1361.46" stroke="#0c0c0c" stroke-width="2.03"/>
<text x="133.24" y="1374.75" font-size="35.52" text-anchor="end">-0.1</text>
<text x="200.92" y="819.13" font-size="45.67" text-anchor="middle">(c)</text>
<text x="175.96" y="1387.33" font-size="30.27" text-anchor="start">comb line spacing = 2.0*FWHM</text>
<clipPath id="c5"><rect x="284.12" y="774.01" width="332.8" height="260.2"/></clipPath>
<g clip-path="url(#c5)">
<rect x="361.32" y="769.01" width="164.9" height="270.2" fill="#468214" fill-opacity="0.115" stroke="#468214" stroke-opacity="0.115" stroke-width="2.54"/>
<path d="M286.5 774.01V1034.21M301.5 774.01V1034.21M316.5 774.01V1034.21M331.5 774.01V1034.21M346.5 774.01V1034.21M361.5 774.01V1034.21M376.5 774.01V1034.21M391.5 774.01V1034.21M406.5 774.01V1034.21M421.5 774.01V1034.21M436.5 774.01V1034.21M451.5 774.01V1034.21M466.5 774.01V1034.21M481.5 774.01V1034.21M496.5 774.01V1034.21M511.5 774.01V1034.21M526.5 774.01V1034.21M541.5 774.01V1034.21M556.5 774.01V1034.21M571.5 774.01V1034.21M586.5 774.01V1034.21M601.5 774.01V1034.21M616.5 774.01V1034.21" stroke="#000" stroke-opacity="0.13" stroke-width="1" fill="none"/>
<path d="M284.12 786.4L284.95 786.41L285.78 786.45L286.62 786.53L287.45 786.67L288.28 786.88L289.11 787.17L289.94 787.54L290.78 788L291.61 788.56L292.44 789.22L293.27 789.99L294.1 790.87L294.94 791.87L295.77 793L296.6 794.25L297.43 795.62L298.26 797.13L299.1 798.77L299.93 800.55L300.76 802.46L301.59 804.51L302.42 806.69L303.26 809.01L304.09 811.47L304.92 814.06L305.75 816.79L306.58 819.64L307.42 822.62L308.25 825.73L309.08 828.96L309.91 832.3L310.74 835.76L311.58 839.32L312.41 842.99L313.24 846.76L314.07 850.62L314.9 854.56L315.74 858.58L316.57 862.67L317.4 866.83L318.23 871.04L319.06 875.31L319.9 879.61L320.73 883.95L321.56 888.32L322.39 892.71L323.22 897.11L324.06 901.52L324.89 905.91L325.72 910.3L326.55 914.67L327.38 919.01L328.22 923.32L329.05 927.59L329.88 931.81L330.71 935.98L331.54 940.08L332.38 944.12L333.21 948.09L334.04 951.99L334.87 955.8L335.7 959.52L336.54 963.15L337.37 966.69L338.2 970.14L339.03 973.48L339.86 976.72L340.7 979.85L341.53 982.88L342.36 985.8L343.19 988.61L344.02 991.3L344.86 993.89L345.69 996.37L346.52 998.73L347.35 1000.99L348.18 1003.14L349.02 1005.17L349.85 1007.1L350.68 1008.93L351.51 1010.64L352.34 1012.26L353.18 1013.77L354.01 1015.19L354.84 1016.5L355.67 1017.72L356.5 1018.85L357.34 1019.88L358.17 1020.82L359 1021.68L359.83 1022.45L360.66 1023.13L361.5 1023.73L362.33 1024.24L363.16 1024.68L363.99 1025.03L364.82 1025.3L365.66 1025.5L366.49 1025.62L367.32 1025.66L368.15 1025.62L368.98 1025.5L369.82 1025.3L370.65 1025.03L371.48 1024.68L372.31 1024.24L373.14 1023.73L373.98 1023.13L374.81 1022.45L375.64 1021.68L376.47 1020.82L377.3 1019.88L378.14 1018.85L378.97 1017.72L379.8 1016.5L380.63 1015.19L381.46 1013.77L382.3 1012.26L383.13 1010.64L383.96 1008.93L384.79 1007.1L385.62 1005.17L386.46 1003.14L387.29 1000.99L388.12 998.73L388.95 996.37L389.78 993.89L390.62 991.3L391.45 988.61L392.28 985.8L393.11 982.88L393.94 979.85L394.78 976.72L395.61 973.48L396.44 970.14L397.27 966.69L398.1 963.15L398.94 959.52L399.77 955.8L400.6 951.99L401.43 948.09L402.26 944.12L403.1 940.08L403.93 935.98L404.76 931.81L405.59 927.59L406.42 923.32L407.26 919.01L408.09 914.67L408.92 910.3L409.75 905.91L410.58 901.52L411.42 897.11L412.25 892.71L413.08 888.32L413.91 883.95L414.74 879.61L415.58 875.31L416.41 871.04L417.24 866.83L418.07 862.67L418.9 858.58L419.74 854.56L420.57 850.62L421.4 846.76L422.23 842.99L423.06 839.32L423.9 835.76L424.73 832.3L425.56 828.96L426.39 825.73L427.22 822.62L428.06 819.64L428.89 816.79L429.72 814.06L430.55 811.47L431.38 809.01L432.22 806.69L433.05 804.51L433.88 802.46L434.71 800.55L435.54 798.77L436.38 797.13L437.21 795.62L438.04 794.25L438.87 793L439.7 791.87L440.54 790.87L441.37 789.99L442.2 789.22L443.03 788.56L443.86 788L444.7 787.54L445.53 787.17L446.36 786.88L447.19 786.67L448.02 786.53L448.86 786.45L449.69 786.41L450.52 786.4L451.35 786.41L452.18 786.45L453.02 786.53L453.85 786.67L454.68 786.88L455.51 787.17L456.34 787.54L457.18 788L458.01 788.56L458.84 789.22L459.67 789.99L460.5 790.87L461.34 791.87L462.17 793L463 794.25L463.83 795.62L464.66 797.13L465.5 798.77L466.33 800.55L467.16 802.46L467.99 804.51L468.82 806.69L469.66 809.01L470.49 811.47L471.32 814.06L472.15 816.79L472.98 819.64L473.82 822.62L474.65 825.73L475.48 828.96L476.31 832.3L477.14 835.76L477.98 839.32L478.81 842.99L479.64 846.76L480.47 850.62L481.3 854.56L482.14 858.58L482.97 862.67L483.8 866.83L484.63 871.04L485.46 875.31L486.3 879.61L487.13 883.95L487.96 888.32L488.79 892.71L489.62 897.11L490.46 901.52L491.29 905.91L492.12 910.3L492.95 914.67L493.78 919.01L494.62 923.32L495.45 927.59L496.28 931.81L497.11 935.98L497.94 940.08L498.78 944.12L499.61 948.09L500.44 951.99L501.27 955.8L502.1 959.52L502.94 963.15L503.77 966.69L504.6 970.14L505.43 973.48L506.26 976.72L507.1 979.85L507.93 982.88L508.76 985.8L509.59 988.61L510.42 991.3L511.26 993.89L512.09 996.37L512.92 998.73L513.75 1000.99L514.58 1003.14L515.42 1005.17L516.25 1007.1L517.08 1008.93L517.91 1010.64L518.74 1012.26L519.58 1013.77L520.41 1015.19L521.24 1016.5L522.07 1017.72L522.9 1018.85L523.74 1019.88L524.57 1020.82L525.4 1021.68L526.23 1022.45L527.06 1023.13L527.9 1023.73L528.73 1024.24L529.56 1024.68L530.39 1025.03L531.22 1025.3L532.06 1025.5L532.89 1025.62L533.72 1025.66L534.55 1025.62L535.38 1025.5L536.22 1025.3L537.05 1025.03L537.88 1024.68L538.71 1024.24L539.54 1023.73L540.38 1023.13L541.21 1022.45L542.04 1021.68L542.87 1020.82L543.7 1019.88L544.54 1018.85L545.37 1017.72L546.2 1016.5L547.03 1015.19L547.86 1013.77L548.7 1012.26L549.53 1010.64L550.36 1008.93L551.19 1007.1L552.02 1005.17L552.86 1003.14L553.69 1000.99L554.52 998.73L555.35 996.37L556.18 993.89L557.02 991.3L557.85 988.61L558.68 985.8L559.51 982.88L560.34 979.85L561.18 976.72L562.01 973.48L562.84 970.14L563.67 966.69L564.5 963.15L565.34 959.52L566.17 955.8L567 951.99L567.83 948.09L568.66 944.12L569.5 940.08L570.33 935.98L571.16 931.81L571.99 927.59L572.82 923.32L573.66 919.01L574.49 914.67L575.32 910.3L576.15 905.91L576.98 901.52L577.82 897.11L578.65 892.71L579.48 888.32L580.31 883.95L581.14 879.61L581.98 875.31L582.81 871.04L583.64 866.83L584.47 862.67L585.3 858.58L586.14 854.56L586.97 850.62L587.8 846.76L588.63 842.99L589.46 839.32L590.3 835.76L591.13 832.3L591.96 828.96L592.79 825.73L593.62 822.62L594.46 819.64L595.29 816.79L596.12 814.06L596.95 811.47L597.78 809.01L598.62 806.69L599.45 804.51L600.28 802.46L601.11 800.55L601.94 798.77L602.78 797.13L603.61 795.62L604.44 794.25L605.27 793L606.1 791.87L606.94 790.87L607.77 789.99L608.6 789.22L609.43 788.56L610.26 788L611.1 787.54L611.93 787.17L612.76 786.88L613.59 786.67L614.42 786.53L615.26 786.45L616.09 786.41L616.92 786.4" stroke="#0c0c0c" stroke-width="2.54" fill="none" stroke-linejoin="round" stroke-linecap="square"/>
<path d="M450.52 1034.21V774.01" stroke="#0c0c0c" stroke-width="2.54" stroke-dasharray="9.33 4.03" stroke-dashoffset="0" fill="none"/>
<path d="M443.77 1034.21V774.01" stroke="#195f19" stroke-width="2.54" stroke-dasharray="9.33 4.03" stroke-dashoffset="0" fill="none"/>
</g>
<rect x="284.12" y="774.01" width="332.8" height="260.2" fill="none" stroke="#0c0c0c" stroke-width="2.03"/>
<line x1="293.86" y1="1034.21" x2="293.86" y2="1043.09" stroke="#0c0c0c" stroke-width="2.03"/>
<text x="293.86" y="1070.54" font-size="25.37" text-anchor="middle">−10</text>
<line x1="443.77" y1="1034.21" x2="443.77" y2="1043.09" stroke="#0c0c0c" stroke-width="2.03"/>
<text x="443.77" y="1070.54" font-size="25.37" text-anchor="middle">0</text>
<line x1="593.68" y1="1034.21" x2="593.68" y2="1043.09" stroke="#0c0c0c" stroke-width="2.03"/>
<text x="593.68" y="1070.54" font-size="25.37" text-anchor="middle">10</text>
<line x1="275.24" y1="1034.21" x2="284.12" y2="1034.21" stroke="#0c0c0c" stroke-width="2.03"/>
<text x="266.36" y="1043.25" font-size="25.37" text-anchor="end">0</text>
<line x1="275.24" y1="786.4" x2="284.12" y2="786.4" stroke="#0c0c0c" stroke-width="2.03"/>
<text x="266.36" y="795.44" font-size="25.37" text-anchor="end">1</text>
<text x="334.04" y="811.23" font-size="40.59" text-anchor="middle">L</text>
<clipPath id="c6"><rect x="633.56" y="774.01" width="332.8" height="260.2"/></clipPath>
<g clip-path="url(#c6)">
<rect x="724.26" y="769.01" width="164.9" height="270.2" fill="#468214" fill-opacity="0.115" stroke="#468214" stroke-opacity="0.115" stroke-width="2.54"/>
<path d="M634.5 774.01V1034.21M649.5 774.01V1034.21M664.5 774.01V1034.21M679.5 774.01V1034.21M694.5 774.01V1034.21M709.5 774.01V1034.21M724.5 774.01V1034.21M739.5 774.01V1034.21M754.5 774.01V1034.21M769.5 774.01V1034.21M784.5 774.01V1034.21M799.5 774.01V1034.21M814.5 774.01V1034.21M829.5 774.01V1034.21M844.5 774.01V1034.21M859.5 774.01V1034.21M874.5 774.01V1034.21M889.5 774.01V1034.21M904.5 774.01V1034.21M919.5 774.01V1034.21M934.5 774.01V1034.21M949.5 774.01V1034.21M964.5 774.01V1034.21" stroke="#000" stroke-opacity="0.13" stroke-width="1" fill="none"/>
<path d="M633.56 786.4L634.39 786.41L635.22 786.45L636.06 786.53L636.89 786.67L637.72 786.88L638.55 787.17L639.38 787.54L640.22 788L641.05 788.56L641.88 789.22L642.71 789.99L643.54 790.87L644.38 791.87L645.21 793L646.04 794.25L646.87 795.62L647.7 797.13L648.54 798.77L649.37 800.55L650.2 802.46L651.03 804.51L651.86 806.69L652.7 809.01L653.53 811.47L654.36 814.06L655.19 816.79L656.02 819.64L656.86 822.62L657.69 825.73L658.52 828.96L659.35 832.3L660.18 835.76L661.02 839.32L661.85 842.99L662.68 846.76L663.51 850.62L664.34 854.56L665.18 858.58L666.01 862.67L666.84 866.83L667.67 871.04L668.5 875.31L669.34 879.61L670.17 883.95L671 888.32L671.83 892.71L672.66 897.11L673.5 901.52L674.33 905.91L675.16 910.3L675.99 914.67L676.82 919.01L677.66 923.32L678.49 927.59L679.32 931.81L680.15 935.98L680.98 940.08L681.82 944.12L682.65 948.09L683.48 951.99L684.31 955.8L685.14 959.52L685.98 963.15L686.81 966.69L687.64 970.14L688.47 973.48L689.3 976.72L690.14 979.85L690.97 982.88L691.8 985.8L692.63 988.61L693.46 991.3L694.3 993.89L695.13 996.37L695.96 998.73L696.79 1000.99L697.62 1003.14L698.46 1005.17L699.29 1007.1L700.12 1008.93L700.95 1010.64L701.78 1012.26L702.62 1013.77L703.45 1015.19L704.28 1016.5L705.11 1017.72L705.94 1018.85L706.78 1019.88L707.61 1020.82L708.44 1021.68L709.27 1022.45L710.1 1023.13L710.94 1023.73L711.77 1024.24L712.6 1024.68L713.43 1025.03L714.26 1025.3L715.1 1025.5L715.93 1025.62L716.76 1025.66L717.59 1025.62L718.42 1025.5L719.26 1025.3L720.09 1025.03L720.92 1024.68L721.75 1024.24L722.58 1023.73L723.42 1023.13L724.25 1022.45L725.08 1021.68L725.91 1020.82L726.74 1019.88L727.58 1018.85L728.41 1017.72L729.24 1016.5L730.07 1015.19L730.9 1013.77L731.74 1012.26L732.57 1010.64L733.4 1008.93L734.23 1007.1L735.06 1005.17L735.9 1003.14L736.73 1000.99L737.56 998.73L738.39 996.37L739.22 993.89L740.06 991.3L740.89 988.61L741.72 985.8L742.55 982.88L743.38 979.85L744.22 976.72L745.05 973.48L745.88 970.14L746.71 966.69L747.54 963.15L748.38 959.52L749.21 955.8L750.04 951.99L750.87 948.09L751.7 944.12L752.54 940.08L753.37 935.98L754.2 931.81L755.03 927.59L755.86 923.32L756.7 919.01L757.53 914.67L758.36 910.3L759.19 905.91L760.02 901.52L760.86 897.11L761.69 892.71L762.52 888.32L763.35 883.95L764.18 879.61L765.02 875.31L765.85 871.04L766.68 866.83L767.51 862.67L768.34 858.58L769.18 854.56L770.01 850.62L770.84 846.76L771.67 842.99L772.5 839.32L773.34 835.76L774.17 832.3L775 828.96L775.83 825.73L776.66 822.62L777.5 819.64L778.33 816.79L779.16 814.06L779.99 811.47L780.82 809.01L781.66 806.69L782.49 804.51L783.32 802.46L784.15 800.55L784.98 798.77L785.82 797.13L786.65 795.62L787.48 794.25L788.31 793L789.14 791.87L789.98 790.87L790.81 789.99L791.64 789.22L792.47 788.56L793.3 788L794.14 787.54L794.97 787.17L795.8 786.88L796.63 786.67L797.46 786.53L798.3 786.45L799.13 786.41L799.96 786.4L800.79 786.41L801.62 786.45L802.46 786.53L803.29 786.67L804.12 786.88L804.95 787.17L805.78 787.54L806.62 788L807.45 788.56L808.28 789.22L809.11 789.99L809.94 790.87L810.78 791.87L811.61 793L812.44 794.25L813.27 795.62L814.1 797.13L814.94 798.77L815.77 800.55L816.6 802.46L817.43 804.51L818.26 806.69L819.1 809.01L819.93 811.47L820.76 814.06L821.59 816.79L822.42 819.64L823.26 822.62L824.09 825.73L824.92 828.96L825.75 832.3L826.58 835.76L827.42 839.32L828.25 842.99L829.08 846.76L829.91 850.62L830.74 854.56L831.58 858.58L832.41 862.67L833.24 866.83L834.07 871.04L834.9 875.31L835.74 879.61L836.57 883.95L837.4 888.32L838.23 892.71L839.06 897.11L839.9 901.52L840.73 905.91L841.56 910.3L842.39 914.67L843.22 919.01L844.06 923.32L844.89 927.59L845.72 931.81L846.55 935.98L847.38 940.08L848.22 944.12L849.05 948.09L849.88 951.99L850.71 955.8L851.54 959.52L852.38 963.15L853.21 966.69L854.04 970.14L854.87 973.48L855.7 976.72L856.54 979.85L857.37 982.88L858.2 985.8L859.03 988.61L859.86 991.3L860.7 993.89L861.53 996.37L862.36 998.73L863.19 1000.99L864.02 1003.14L864.86 1005.17L865.69 1007.1L866.52 1008.93L867.35 1010.64L868.18 1012.26L869.02 1013.77L869.85 1015.19L870.68 1016.5L871.51 1017.72L872.34 1018.85L873.18 1019.88L874.01 1020.82L874.84 1021.68L875.67 1022.45L876.5 1023.13L877.34 1023.73L878.17 1024.24L879 1024.68L879.83 1025.03L880.66 1025.3L881.5 1025.5L882.33 1025.62L883.16 1025.66L883.99 1025.62L884.82 1025.5L885.66 1025.3L886.49 1025.03L887.32 1024.68L888.15 1024.24L888.98 1023.73L889.82 1023.13L890.65 1022.45L891.48 1021.68L892.31 1020.82L893.14 1019.88L893.98 1018.85L894.81 1017.72L895.64 1016.5L896.47 1015.19L897.3 1013.77L898.14 1012.26L898.97 1010.64L899.8 1008.93L900.63 1007.1L901.46 1005.17L902.3 1003.14L903.13 1000.99L903.96 998.73L904.79 996.37L905.62 993.89L906.46 991.3L907.29 988.61L908.12 985.8L908.95 982.88L909.78 979.85L910.62 976.72L911.45 973.48L912.28 970.14L913.11 966.69L913.94 963.15L914.78 959.52L915.61 955.8L916.44 951.99L917.27 948.09L918.1 944.12L918.94 940.08L919.77 935.98L920.6 931.81L921.43 927.59L922.26 923.32L923.1 919.01L923.93 914.67L924.76 910.3L925.59 905.91L926.42 901.52L927.26 897.11L928.09 892.71L928.92 888.32L929.75 883.95L930.58 879.61L931.42 875.31L932.25 871.04L933.08 866.83L933.91 862.67L934.74 858.58L935.58 854.56L936.41 850.62L937.24 846.76L938.07 842.99L938.9 839.32L939.74 835.76L940.57 832.3L941.4 828.96L942.23 825.73L943.06 822.62L943.9 819.64L944.73 816.79L945.56 814.06L946.39 811.47L947.22 809.01L948.06 806.69L948.89 804.51L949.72 802.46L950.55 800.55L951.38 798.77L952.22 797.13L953.05 795.62L953.88 794.25L954.71 793L955.54 791.87L956.38 790.87L957.21 789.99L958.04 789.22L958.87 788.56L959.7 788L960.54 787.54L961.37 787.17L962.2 786.88L963.03 786.67L963.86 786.53L964.7 786.45L965.53 786.41L966.36 786.4" stroke="#0c0c0c" stroke-width="2.54" fill="none" stroke-linejoin="round" stroke-linecap="square"/>
<path d="M799.96 1034.21V774.01" stroke="#0c0c0c" stroke-width="2.54" stroke-dasharray="9.33 4.03" stroke-dashoffset="0" fill="none"/>
<path d="M806.71 1034.21V774.01" stroke="#195f19" stroke-width="2.54" stroke-dasharray="9.33 4.03" stroke-dashoffset="0" fill="none"/>
</g>
<rect x="633.56" y="774.01" width="332.8" height="260.2" fill="none" stroke="#0c0c0c" stroke-width="2.03"/>
<line x1="656.8" y1="1034.21" x2="656.8" y2="1043.09" stroke="#0c0c0c" stroke-width="2.03"/>
<text x="656.8" y="1070.54" font-size="25.37" text-anchor="middle">−10</text>
<line x1="806.71" y1="1034.21" x2="806.71" y2="1043.09" stroke="#0c0c0c" stroke-width="2.03"/>
<text x="806.71" y="1070.54" font-size="25.37" text-anchor="middle">0</text>
<line x1="956.62" y1="1034.21" x2="956.62" y2="1043.09" stroke="#0c0c0c" stroke-width="2.03"/>
<text x="956.62" y="1070.54" font-size="25.37" text-anchor="middle">10</text>
<line x1="624.68" y1="1034.21" x2="633.56" y2="1034.21" stroke="#0c0c0c" stroke-width="2.03"/>
<line x1="624.68" y1="786.4" x2="633.56" y2="786.4" stroke="#0c0c0c" stroke-width="2.03"/>
<text x="683.48" y="811.23" font-size="40.59" text-anchor="middle">R</text>
<text x="625.24" y="1099.81" font-size="25.37" text-anchor="middle">pixel number</text>
<text transform="translate(258.02 904.11) rotate(-90)" font-size="25.37" text-anchor="middle">relative intensity</text>
</g>
<g id="panel-d">
<path d="M1045.82 1261.38L1050.92 1258.33L1056.02 1255.28L1061.12 1252.23L1066.22 1249.18L1071.33 1246.14L1076.43 1243.1L1081.53 1240.07L1086.63 1237.04L1091.73 1234.02L1096.83 1231.01L1101.94 1228.01L1107.04 1225.03L1112.14 1222.05L1117.24 1219.09L1122.34 1216.15L1127.44 1213.22L1132.55 1210.3L1137.65 1207.41L1142.75 1204.53L1147.85 1201.68L1152.95 1198.85L1158.05 1196.04L1163.16 1193.25L1168.26 1190.49L1173.36 1187.76L1178.46 1185.05L1183.56 1182.38L1188.67 1179.73L1193.77 1177.11L1198.87 1174.53L1203.97 1171.98L1209.07 1169.46L1214.17 1166.98L1219.28 1164.53L1224.38 1162.13L1229.48 1159.76L1234.58 1157.43L1239.68 1155.15L1244.78 1152.9L1249.89 1150.7L1254.99 1148.55L1260.09 1146.44L1265.19 1144.37L1270.29 1142.36L1275.39 1140.39L1280.5 1138.48L1285.6 1136.61L1290.7 1134.8L1295.8 1133.04L1300.9 1131.34L1301.28 1316.33L1546.72 1206.44L1547.1 1391.43L1552.2 1389.73L1557.3 1387.97L1562.4 1386.16L1567.5 1384.29L1572.61 1382.38L1577.71 1380.41L1582.81 1378.4L1587.91 1376.33L1593.01 1374.22L1598.11 1372.07L1603.22 1369.87L1608.32 1367.62L1613.42 1365.34L1618.52 1363.01L1623.62 1360.64L1628.72 1358.23L1633.83 1355.79L1638.93 1353.31L1644.03 1350.79L1649.13 1348.24L1654.23 1345.66L1659.33 1343.04L1664.44 1340.39L1669.54 1337.71L1674.64 1335.01L1679.74 1332.28L1684.84 1329.52L1689.95 1326.73L1695.05 1323.92L1700.15 1321.09L1705.25 1318.24L1710.35 1315.36L1715.45 1312.47L1720.56 1309.55L1725.66 1306.62L1730.76 1303.68L1735.86 1300.72L1740.96 1297.74L1746.06 1294.75L1751.17 1291.76L1756.27 1288.75L1761.37 1285.73L1766.47 1282.7L1771.57 1279.67L1776.67 1276.63L1781.78 1273.58L1786.88 1270.54L1791.98 1267.49L1797.08 1264.44L1802.18 1261.38" stroke="#2f55a4" stroke-width="3.81" fill="none" stroke-linejoin="round" stroke-linecap="square"/>
<circle cx="1301.09" cy="1131.34" r="6.42" fill="none" stroke="#0c0c0c" stroke-width="2.3"/>
<text x="1311.19" y="1121.54" font-size="40.59" text-anchor="start">L</text>
<circle cx="1546.91" cy="1391.43" r="6.42" fill="none" stroke="#0c0c0c" stroke-width="2.3"/>
<text x="1557.01" y="1381.63" font-size="40.59" text-anchor="start">R</text>
<rect x="1008" y="761" width="832" height="650.5" fill="none" stroke="#0c0c0c" stroke-width="2.03"/>
<line x1="1121.45" y1="1411.5" x2="1121.45" y2="1420.38" stroke="#0c0c0c" stroke-width="2.03"/>
<text x="1121.45" y="1456.24" font-size="35.52" text-anchor="middle">−0.4</text>
<line x1="1272.73" y1="1411.5" x2="1272.73" y2="1420.38" stroke="#0c0c0c" stroke-width="2.03"/>
<text x="1272.73" y="1456.24" font-size="35.52" text-anchor="middle">−0.2</text>
<line x1="1424" y1="1411.5" x2="1424" y2="1420.38" stroke="#0c0c0c" stroke-width="2.03"/>
<text x="1424" y="1456.24" font-size="35.52" text-anchor="middle">0.0</text>
<line x1="1575.27" y1="1411.5" x2="1575.27" y2="1420.38" stroke="#0c0c0c" stroke-width="2.03"/>
<text x="1575.27" y="1456.24" font-size="35.52" text-anchor="middle">0.2</text>
<line x1="1726.55" y1="1411.5" x2="1726.55" y2="1420.38" stroke="#0c0c0c" stroke-width="2.03"/>
<text x="1726.55" y="1456.24" font-size="35.52" text-anchor="middle">0.4</text>
<line x1="999.12" y1="761" x2="1008" y2="761" stroke="#0c0c0c" stroke-width="2.03"/>
<line x1="1840" y1="761" x2="1848.88" y2="761" stroke="#0c0c0c" stroke-width="2.03"/>
<text x="1857.76" y="775.19" font-size="35.52" text-anchor="start">15.0</text>
<line x1="999.12" y1="861.08" x2="1008" y2="861.08" stroke="#0c0c0c" stroke-width="2.03"/>
<line x1="1840" y1="861.08" x2="1848.88" y2="861.08" stroke="#0c0c0c" stroke-width="2.03"/>
<text x="1857.76" y="875.27" font-size="35.52" text-anchor="start">12.0</text>
<line x1="999.12" y1="961.15" x2="1008" y2="961.15" stroke="#0c0c0c" stroke-width="2.03"/>
<line x1="1840" y1="961.15" x2="1848.88" y2="961.15" stroke="#0c0c0c" stroke-width="2.03"/>
<text x="1857.76" y="975.35" font-size="35.52" text-anchor="start">9.0</text>
<line x1="999.12" y1="1061.23" x2="1008" y2="1061.23" stroke="#0c0c0c" stroke-width="2.03"/>
<line x1="1840" y1="1061.23" x2="1848.88" y2="1061.23" stroke="#0c0c0c" stroke-width="2.03"/>
<text x="1857.76" y="1075.42" font-size="35.52" text-anchor="start">6.0</text>
<line x1="999.12" y1="1161.31" x2="1008" y2="1161.31" stroke="#0c0c0c" stroke-width="2.03"/>
<line x1="1840" y1="1161.31" x2="1848.88" y2="1161.31" stroke="#0c0c0c" stroke-width="2.03"/>
<text x="1857.76" y="1175.5" font-size="35.52" text-anchor="start">3.0</text>
<line x1="999.12" y1="1261.38" x2="1008" y2="1261.38" stroke="#0c0c0c" stroke-width="2.03"/>
<line x1="1840" y1="1261.38" x2="1848.88" y2="1261.38" stroke="#0c0c0c" stroke-width="2.03"/>
<text x="1857.76" y="1275.58" font-size="35.52" text-anchor="start">0.0</text>
<line x1="999.12" y1="1361.46" x2="1008" y2="1361.46" stroke="#0c0c0c" stroke-width="2.03"/>
<line x1="1840" y1="1361.46" x2="1848.88" y2="1361.46" stroke="#0c0c0c" stroke-width="2.03"/>
<text x="1857.76" y="1375.65" font-size="35.52" text-anchor="start">-3.0</text>
<text x="1057.92" y="819.13" font-size="45.67" text-anchor="middle">(d)</text>
<text x="1032.96" y="1387.33" font-size="30.27" text-anchor="start">comb line spacing = 1.5*FWHM</text>
<clipPath id="c7"><rect x="1141.12" y="774.01" width="332.8" height="260.2"/></clipPath>
<g clip-path="url(#c7)">
<rect x="1220.82" y="769.01" width="159.9" height="270.2" fill="#468214" fill-opacity="0.115" stroke="#468214" stroke-opacity="0.115" stroke-width="2.54"/>
<path d="M1140.5 774.01V1034.21M1160.5 774.01V1034.21M1180.5 774.01V1034.21M1200.5 774.01V1034.21M1220.5 774.01V1034.21M1240.5 774.01V1034.21M1260.5 774.01V1034.21M1280.5 774.01V1034.21M1300.5 774.01V1034.21M1320.5 774.01V1034.21M1340.5 774.01V1034.21M1360.5 774.01V1034.21M1380.5 774.01V1034.21M1400.5 774.01V1034.21M1420.5 774.01V1034.21M1440.5 774.01V1034.21M1460.5 774.01V1034.21" stroke="#000" stroke-opacity="0.13" stroke-width="1" fill="none"/>
<path d="M1141.12 786.4L1141.95 786.4L1142.78 786.42L1143.62 786.46L1144.45 786.53L1145.28 786.63L1146.11 786.77L1146.94 786.95L1147.78 787.17L1148.61 787.43L1149.44 787.75L1150.27 788.12L1151.1 788.55L1151.94 789.03L1152.77 789.58L1153.6 790.18L1154.43 790.85L1155.26 791.59L1156.1 792.39L1156.93 793.27L1157.76 794.21L1158.59 795.23L1159.42 796.31L1160.26 797.48L1161.09 798.71L1161.92 800.02L1162.75 801.41L1163.58 802.87L1164.42 804.41L1165.25 806.02L1166.08 807.71L1166.91 809.47L1167.74 811.31L1168.58 813.22L1169.41 815.21L1170.24 817.26L1171.07 819.39L1171.9 821.59L1172.74 823.85L1173.57 826.18L1174.4 828.57L1175.23 831.03L1176.06 833.55L1176.9 836.12L1177.73 838.75L1178.56 841.43L1179.39 844.16L1180.22 846.94L1181.06 849.77L1181.89 852.63L1182.72 855.53L1183.55 858.47L1184.38 861.43L1185.22 864.43L1186.05 867.45L1186.88 870.48L1187.71 873.54L1188.54 876.6L1189.38 879.67L1190.21 882.75L1191.04 885.83L1191.87 888.9L1192.7 891.97L1193.54 895.02L1194.37 898.05L1195.2 901.07L1196.03 904.05L1196.86 907.01L1197.7 909.94L1198.53 912.82L1199.36 915.67L1200.19 918.46L1201.02 921.21L1201.86 923.9L1202.69 926.53L1203.52 929.1L1204.35 931.6L1205.18 934.04L1206.02 936.39L1206.85 938.67L1207.68 940.87L1208.51 942.99L1209.34 945.01L1210.18 946.95L1211.01 948.79L1211.84 950.54L1212.67 952.18L1213.5 953.73L1214.34 955.17L1215.17 956.5L1216 957.72L1216.83 958.83L1217.66 959.83L1218.5 960.72L1219.33 961.49L1220.16 962.15L1220.99 962.68L1221.82 963.1L1222.66 963.4L1223.49 963.58L1224.32 963.64L1225.15 963.58L1225.98 963.4L1226.82 963.1L1227.65 962.68L1228.48 962.15L1229.31 961.49L1230.14 960.72L1230.98 959.83L1231.81 958.83L1232.64 957.72L1233.47 956.5L1234.3 955.17L1235.14 953.73L1235.97 952.18L1236.8 950.54L1237.63 948.79L1238.46 946.95L1239.3 945.01L1240.13 942.99L1240.96 940.87L1241.79 938.67L1242.62 936.39L1243.46 934.04L1244.29 931.6L1245.12 929.1L1245.95 926.53L1246.78 923.9L1247.62 921.21L1248.45 918.46L1249.28 915.67L1250.11 912.82L1250.94 909.94L1251.78 907.01L1252.61 904.05L1253.44 901.07L1254.27 898.05L1255.1 895.02L1255.94 891.97L1256.77 888.9L1257.6 885.83L1258.43 882.75L1259.26 879.67L1260.1 876.6L1260.93 873.54L1261.76 870.48L1262.59 867.45L1263.42 864.43L1264.26 861.43L1265.09 858.47L1265.92 855.53L1266.75 852.63L1267.58 849.77L1268.42 846.94L1269.25 844.16L1270.08 841.43L1270.91 838.75L1271.74 836.12L1272.58 833.55L1273.41 831.03L1274.24 828.57L1275.07 826.18L1275.9 823.85L1276.74 821.59L1277.57 819.39L1278.4 817.26L1279.23 815.21L1280.06 813.22L1280.9 811.31L1281.73 809.47L1282.56 807.71L1283.39 806.02L1284.22 804.41L1285.06 802.87L1285.89 801.41L1286.72 800.02L1287.55 798.71L1288.38 797.48L1289.22 796.31L1290.05 795.23L1290.88 794.21L1291.71 793.27L1292.54 792.39L1293.38 791.59L1294.21 790.85L1295.04 790.18L1295.87 789.58L1296.7 789.03L1297.54 788.55L1298.37 788.12L1299.2 787.75L1300.03 787.43L1300.86 787.17L1301.7 786.95L1302.53 786.77L1303.36 786.63L1304.19 786.53L1305.02 786.46L1305.86 786.42L1306.69 786.4L1307.52 786.4L1308.35 786.4L1309.18 786.42L1310.02 786.46L1310.85 786.53L1311.68 786.63L1312.51 786.77L1313.34 786.95L1314.18 787.17L1315.01 787.43L1315.84 787.75L1316.67 788.12L1317.5 788.55L1318.34 789.03L1319.17 789.58L1320 790.18L1320.83 790.85L1321.66 791.59L1322.5 792.39L1323.33 793.27L1324.16 794.21L1324.99 795.23L1325.82 796.31L1326.66 797.48L1327.49 798.71L1328.32 800.02L1329.15 801.41L1329.98 802.87L1330.82 804.41L1331.65 806.02L1332.48 807.71L1333.31 809.47L1334.14 811.31L1334.98 813.22L1335.81 815.21L1336.64 817.26L1337.47 819.39L1338.3 821.59L1339.14 823.85L1339.97 826.18L1340.8 828.57L1341.63 831.03L1342.46 833.55L1343.3 836.12L1344.13 838.75L1344.96 841.43L1345.79 844.16L1346.62 846.94L1347.46 849.77L1348.29 852.63L1349.12 855.53L1349.95 858.47L1350.78 861.43L1351.62 864.43L1352.45 867.45L1353.28 870.48L1354.11 873.54L1354.94 876.6L1355.78 879.67L1356.61 882.75L1357.44 885.83L1358.27 888.9L1359.1 891.97L1359.94 895.02L1360.77 898.05L1361.6 901.07L1362.43 904.05L1363.26 907.01L1364.1 909.94L1364.93 912.82L1365.76 915.67L1366.59 918.46L1367.42 921.21L1368.26 923.9L1369.09 926.53L1369.92 929.1L1370.75 931.6L1371.58 934.04L1372.42 936.39L1373.25 938.67L1374.08 940.87L1374.91 942.99L1375.74 945.01L1376.58 946.95L1377.41 948.79L1378.24 950.54L1379.07 952.18L1379.9 953.73L1380.74 955.17L1381.57 956.5L1382.4 957.72L1383.23 958.83L1384.06 959.83L1384.9 960.72L1385.73 961.49L1386.56 962.15L1387.39 962.68L1388.22 963.1L1389.06 963.4L1389.89 963.58L1390.72 963.64L1391.55 963.58L1392.38 963.4L1393.22 963.1L1394.05 962.68L1394.88 962.15L1395.71 961.49L1396.54 960.72L1397.38 959.83L1398.21 958.83L1399.04 957.72L1399.87 956.5L1400.7 955.17L1401.54 953.73L1402.37 952.18L1403.2 950.54L1404.03 948.79L1404.86 946.95L1405.7 945.01L1406.53 942.99L1407.36 940.87L1408.19 938.67L1409.02 936.39L1409.86 934.04L1410.69 931.6L1411.52 929.1L1412.35 926.53L1413.18 923.9L1414.02 921.21L1414.85 918.46L1415.68 915.67L1416.51 912.82L1417.34 909.94L1418.18 907.01L1419.01 904.05L1419.84 901.07L1420.67 898.05L1421.5 895.02L1422.34 891.97L1423.17 888.9L1424 885.83L1424.83 882.75L1425.66 879.67L1426.5 876.6L1427.33 873.54L1428.16 870.48L1428.99 867.45L1429.82 864.43L1430.66 861.43L1431.49 858.47L1432.32 855.53L1433.15 852.63L1433.98 849.77L1434.82 846.94L1435.65 844.16L1436.48 841.43L1437.31 838.75L1438.14 836.12L1438.98 833.55L1439.81 831.03L1440.64 828.57L1441.47 826.18L1442.3 823.85L1443.14 821.59L1443.97 819.39L1444.8 817.26L1445.63 815.21L1446.46 813.22L1447.3 811.31L1448.13 809.47L1448.96 807.71L1449.79 806.02L1450.62 804.41L1451.46 802.87L1452.29 801.41L1453.12 800.02L1453.95 798.71L1454.78 797.48L1455.62 796.31L1456.45 795.23L1457.28 794.21L1458.11 793.27L1458.94 792.39L1459.78 791.59L1460.61 790.85L1461.44 790.18L1462.27 789.58L1463.1 789.03L1463.94 788.55L1464.77 788.12L1465.6 787.75L1466.43 787.43L1467.26 787.17L1468.1 786.95L1468.93 786.77L1469.76 786.63L1470.59 786.53L1471.42 786.46L1472.26 786.42L1473.09 786.4L1473.92 786.4" stroke="#0c0c0c" stroke-width="2.54" fill="none" stroke-linejoin="round" stroke-linecap="square"/>
<path d="M1307.52 1034.21V774.01" stroke="#0c0c0c" stroke-width="2.54" stroke-dasharray="9.33 4.03" stroke-dashoffset="0" fill="none"/>
<path d="M1300.77 1034.21V774.01" stroke="#195f19" stroke-width="2.54" stroke-dasharray="9.33 4.03" stroke-dashoffset="0" fill="none"/>
</g>
<rect x="1141.12" y="774.01" width="332.8" height="260.2" fill="none" stroke="#0c0c0c" stroke-width="2.03"/>
<line x1="1210.83" y1="1034.21" x2="1210.83" y2="1043.09" stroke="#0c0c0c" stroke-width="2.03"/>
<text x="1210.83" y="1070.54" font-size="25.37" text-anchor="middle">−5</text>
<line x1="1310.77" y1="1034.21" x2="1310.77" y2="1043.09" stroke="#0c0c0c" stroke-width="2.03"/>
<text x="1310.77" y="1070.54" font-size="25.37" text-anchor="middle">0</text>
<line x1="1410.71" y1="1034.21" x2="1410.71" y2="1043.09" stroke="#0c0c0c" stroke-width="2.03"/>
<text x="1410.71" y="1070.54" font-size="25.37" text-anchor="middle">5</text>
<line x1="1132.24" y1="1034.21" x2="1141.12" y2="1034.21" stroke="#0c0c0c" stroke-width="2.03"/>
<text x="1123.36" y="1043.25" font-size="25.37" text-anchor="end">0</text>
<line x1="1132.24" y1="786.4" x2="1141.12" y2="786.4" stroke="#0c0c0c" stroke-width="2.03"/>
<text x="1123.36" y="795.44" font-size="25.37" text-anchor="end">1</text>
<text x="1191.04" y="811.23" font-size="40.59" text-anchor="middle">L</text>
<clipPath id="c8"><rect x="1490.56" y="774.01" width="332.8" height="260.2"/></clipPath>
<g clip-path="url(#c8)">
<rect x="1583.75" y="769.01" width="159.9" height="270.2" fill="#468214" fill-opacity="0.115" stroke="#468214" stroke-opacity="0.115" stroke-width="2.54"/>
<path d="M1503.5 774.01V1034.21M1523.5 774.01V1034.21M1543.5 774.01V1034.21M1563.5 774.01V1034.21M1583.5 774.01V1034.21M1603.5 774.01V1034.21M1623.5 774.01V1034.21M1643.5 774.01V1034.21M1663.5 774.01V1034.21M1683.5 774.01V1034.21M1703.5 774.01V1034.21M1723.5 774.01V1034.21M1743.5 774.01V1034.21M1763.5 774.01V1034.21M1783.5 774.01V1034.21M1803.5 774.01V1034.21M1823.5 774.01V1034.21" stroke="#000" stroke-opacity="0.13" stroke-width="1" fill="none"/>
<path d="M1490.56 786.4L1491.39 786.4L1492.22 786.42L1493.06 786.46L1493.89 786.53L1494.72 786.63L1495.55 786.77L1496.38 786.95L1497.22 787.17L1498.05 787.43L1498.88 787.75L1499.71 788.12L1500.54 788.55L1501.38 789.03L1502.21 789.58L1503.04 790.18L1503.87 790.85L1504.7 791.59L1505.54 792.39L1506.37 793.27L1507.2 794.21L1508.03 795.23L1508.86 796.31L1509.7 797.48L1510.53 798.71L1511.36 800.02L1512.19 801.41L1513.02 802.87L1513.86 804.41L1514.69 806.02L1515.52 807.71L1516.35 809.47L1517.18 811.31L1518.02 813.22L1518.85 815.21L1519.68 817.26L1520.51 819.39L1521.34 821.59L1522.18 823.85L1523.01 826.18L1523.84 828.57L1524.67 831.03L1525.5 833.55L1526.34 836.12L1527.17 838.75L1528 841.43L1528.83 844.16L1529.66 846.94L1530.5 849.77L1531.33 852.63L1532.16 855.53L1532.99 858.47L1533.82 861.43L1534.66 864.43L1535.49 867.45L1536.32 870.48L1537.15 873.54L1537.98 876.6L1538.82 879.67L1539.65 882.75L1540.48 885.83L1541.31 888.9L1542.14 891.97L1542.98 895.02L1543.81 898.05L1544.64 901.07L1545.47 904.05L1546.3 907.01L1547.14 909.94L1547.97 912.82L1548.8 915.67L1549.63 918.46L1550.46 921.21L1551.3 923.9L1552.13 926.53L1552.96 929.1L1553.79 931.6L1554.62 934.04L1555.46 936.39L1556.29 938.67L1557.12 940.87L1557.95 942.99L1558.78 945.01L1559.62 946.95L1560.45 948.79L1561.28 950.54L1562.11 952.18L1562.94 953.73L1563.78 955.17L1564.61 956.5L1565.44 957.72L1566.27 958.83L1567.1 959.83L1567.94 960.72L1568.77 961.49L1569.6 962.15L1570.43 962.68L1571.26 963.1L1572.1 963.4L1572.93 963.58L1573.76 963.64L1574.59 963.58L1575.42 963.4L1576.26 963.1L1577.09 962.68L1577.92 962.15L1578.75 961.49L1579.58 960.72L1580.42 959.83L1581.25 958.83L1582.08 957.72L1582.91 956.5L1583.74 955.17L1584.58 953.73L1585.41 952.18L1586.24 950.54L1587.07 948.79L1587.9 946.95L1588.74 945.01L1589.57 942.99L1590.4 940.87L1591.23 938.67L1592.06 936.39L1592.9 934.04L1593.73 931.6L1594.56 929.1L1595.39 926.53L1596.22 923.9L1597.06 921.21L1597.89 918.46L1598.72 915.67L1599.55 912.82L1600.38 909.94L1601.22 907.01L1602.05 904.05L1602.88 901.07L1603.71 898.05L1604.54 895.02L1605.38 891.97L1606.21 888.9L1607.04 885.83L1607.87 882.75L1608.7 879.67L1609.54 876.6L1610.37 873.54L1611.2 870.48L1612.03 867.45L1612.86 864.43L1613.7 861.43L1614.53 858.47L1615.36 855.53L1616.19 852.63L1617.02 849.77L1617.86 846.94L1618.69 844.16L1619.52 841.43L1620.35 838.75L1621.18 836.12L1622.02 833.55L1622.85 831.03L1623.68 828.57L1624.51 826.18L1625.34 823.85L1626.18 821.59L1627.01 819.39L1627.84 817.26L1628.67 815.21L1629.5 813.22L1630.34 811.31L1631.17 809.47L1632 807.71L1632.83 806.02L1633.66 804.41L1634.5 802.87L1635.33 801.41L1636.16 800.02L1636.99 798.71L1637.82 797.48L1638.66 796.31L1639.49 795.23L1640.32 794.21L1641.15 793.27L1641.98 792.39L1642.82 791.59L1643.65 790.85L1644.48 790.18L1645.31 789.58L1646.14 789.03L1646.98 788.55L1647.81 788.12L1648.64 787.75L1649.47 787.43L1650.3 787.17L1651.14 786.95L1651.97 786.77L1652.8 786.63L1653.63 786.53L1654.46 786.46L1655.3 786.42L1656.13 786.4L1656.96 786.4L1657.79 786.4L1658.62 786.42L1659.46 786.46L1660.29 786.53L1661.12 786.63L1661.95 786.77L1662.78 786.95L1663.62 787.17L1664.45 787.43L1665.28 787.75L1666.11 788.12L1666.94 788.55L1667.78 789.03L1668.61 789.58L1669.44 790.18L1670.27 790.85L1671.1 791.59L1671.94 792.39L1672.77 793.27L1673.6 794.21L1674.43 795.23L1675.26 796.31L1676.1 797.48L1676.93 798.71L1677.76 800.02L1678.59 801.41L1679.42 802.87L1680.26 804.41L1681.09 806.02L1681.92 807.71L1682.75 809.47L1683.58 811.31L1684.42 813.22L1685.25 815.21L1686.08 817.26L1686.91 819.39L1687.74 821.59L1688.58 823.85L1689.41 826.18L1690.24 828.57L1691.07 831.03L1691.9 833.55L1692.74 836.12L1693.57 838.75L1694.4 841.43L1695.23 844.16L1696.06 846.94L1696.9 849.77L1697.73 852.63L1698.56 855.53L1699.39 858.47L1700.22 861.43L1701.06 864.43L1701.89 867.45L1702.72 870.48L1703.55 873.54L1704.38 876.6L1705.22 879.67L1706.05 882.75L1706.88 885.83L1707.71 888.9L1708.54 891.97L1709.38 895.02L1710.21 898.05L1711.04 901.07L1711.87 904.05L1712.7 907.01L1713.54 909.94L1714.37 912.82L1715.2 915.67L1716.03 918.46L1716.86 921.21L1717.7 923.9L1718.53 926.53L1719.36 929.1L1720.19 931.6L1721.02 934.04L1721.86 936.39L1722.69 938.67L1723.52 940.87L1724.35 942.99L1725.18 945.01L1726.02 946.95L1726.85 948.79L1727.68 950.54L1728.51 952.18L1729.34 953.73L1730.18 955.17L1731.01 956.5L1731.84 957.72L1732.67 958.83L1733.5 959.83L1734.34 960.72L1735.17 961.49L1736 962.15L1736.83 962.68L1737.66 963.1L1738.5 963.4L1739.33 963.58L1740.16 963.64L1740.99 963.58L1741.82 963.4L1742.66 963.1L1743.49 962.68L1744.32 962.15L1745.15 961.49L1745.98 960.72L1746.82 959.83L1747.65 958.83L1748.48 957.72L1749.31 956.5L1750.14 955.17L1750.98 953.73L1751.81 952.18L1752.64 950.54L1753.47 948.79L1754.3 946.95L1755.14 945.01L1755.97 942.99L1756.8 940.87L1757.63 938.67L1758.46 936.39L1759.3 934.04L1760.13 931.6L1760.96 929.1L1761.79 926.53L1762.62 923.9L1763.46 921.21L1764.29 918.46L1765.12 915.67L1765.95 912.82L1766.78 909.94L1767.62 907.01L1768.45 904.05L1769.28 901.07L1770.11 898.05L1770.94 895.02L1771.78 891.97L1772.61 888.9L1773.44 885.83L1774.27 882.75L1775.1 879.67L1775.94 876.6L1776.77 873.54L1777.6 870.48L1778.43 867.45L1779.26 864.43L1780.1 861.43L1780.93 858.47L1781.76 855.53L1782.59 852.63L1783.42 849.77L1784.26 846.94L1785.09 844.16L1785.92 841.43L1786.75 838.75L1787.58 836.12L1788.42 833.55L1789.25 831.03L1790.08 828.57L1790.91 826.18L1791.74 823.85L1792.58 821.59L1793.41 819.39L1794.24 817.26L1795.07 815.21L1795.9 813.22L1796.74 811.31L1797.57 809.47L1798.4 807.71L1799.23 806.02L1800.06 804.41L1800.9 802.87L1801.73 801.41L1802.56 800.02L1803.39 798.71L1804.22 797.48L1805.06 796.31L1805.89 795.23L1806.72 794.21L1807.55 793.27L1808.38 792.39L1809.22 791.59L1810.05 790.85L1810.88 790.18L1811.71 789.58L1812.54 789.03L1813.38 788.55L1814.21 788.12L1815.04 787.75L1815.87 787.43L1816.7 787.17L1817.54 786.95L1818.37 786.77L1819.2 786.63L1820.03 786.53L1820.86 786.46L1821.7 786.42L1822.53 786.4L1823.36 786.4" stroke="#0c0c0c" stroke-width="2.54" fill="none" stroke-linejoin="round" stroke-linecap="square"/>
<path d="M1656.96 1034.21V774.01" stroke="#0c0c0c" stroke-width="2.54" stroke-dasharray="9.33 4.03" stroke-dashoffset="0" fill="none"/>
<path d="M1663.71 1034.21V774.01" stroke="#195f19" stroke-width="2.54" stroke-dasharray="9.33 4.03" stroke-dashoffset="0" fill="none"/>
</g>
<rect x="1490.56" y="774.01" width="332.8" height="260.2" fill="none" stroke="#0c0c0c" stroke-width="2.03"/>
<line x1="1553.77" y1="1034.21" x2="1553.77" y2="1043.09" stroke="#0c0c0c" stroke-width="2.03"/>
<text x="1553.77" y="1070.54" font-size="25.37" text-anchor="middle">−5</text>
<line x1="1653.71" y1="1034.21" x2="1653.71" y2="1043.09" stroke="#0c0c0c" stroke-width="2.03"/>
<text x="1653.71" y="1070.54" font-size="25.37" text-anchor="middle">0</text>
<line x1="1753.65" y1="1034.21" x2="1753.65" y2="1043.09" stroke="#0c0c0c" stroke-width="2.03"/>
<text x="1753.65" y="1070.54" font-size="25.37" text-anchor="middle">5</text>
<line x1="1481.68" y1="1034.21" x2="1490.56" y2="1034.21" stroke="#0c0c0c" stroke-width="2.03"/>
<line x1="1481.68" y1="786.4" x2="1490.56" y2="786.4" stroke="#0c0c0c" stroke-width="2.03"/>
<text x="1540.48" y="811.23" font-size="40.59" text-anchor="middle">R</text>
<text x="1482.24" y="1099.81" font-size="25.37" text-anchor="middle">pixel number</text>
<text transform="translate(1115.02 904.11) rotate(-90)" font-size="25.37" text-anchor="middle">relative intensity</text>
</g>
<text transform="translate(34.5 757.6) rotate(-90)" font-size="45.67" text-anchor="middle">center bias / pixel</text>
<text transform="translate(1996 995.5) rotate(-90)" font-size="45.47" text-anchor="start">center bias / 0.001 Å</text>
<text x="968.1" y="1538.5" font-size="45.67" text-anchor="middle">pixel phase</text>
</svg>
</body>
</html>
